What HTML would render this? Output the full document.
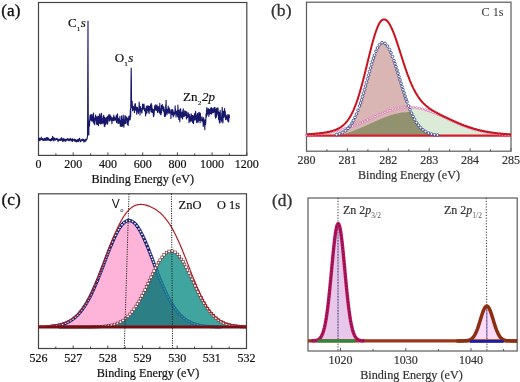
<!DOCTYPE html>
<html><head><meta charset="utf-8"><title>XPS spectra</title>
<style>
html,body{margin:0;padding:0;background:#fff;}
svg{display:block;font-family:"Liberation Serif",serif;}
</style></head>
<body>
<svg width="520" height="382" viewBox="0 0 520 382">
<defs><filter id="soft" x="0" y="0" width="100%" height="100%" filterUnits="userSpaceOnUse" color-interpolation-filters="sRGB"><feGaussianBlur stdDeviation="0.38"/></filter></defs>
<rect width="520" height="382" fill="#fff"/>
<g filter="url(#soft)">
<rect x="38.5" y="2.5" width="208.3" height="152.9" fill="none" stroke="#444" stroke-width="1.2"/>
<path d="M38.5 155.4v-3M73.2 155.4v-3M107.9 155.4v-3M142.7 155.4v-3M177.4 155.4v-3M212.1 155.4v-3M246.8 155.4v-3M55.9 155.4v-2M90.6 155.4v-2M125.3 155.4v-2M160 155.4v-2M194.7 155.4v-2M229.4 155.4v-2" stroke="#444" stroke-width="1" fill="none"/>
<text x="38.5" y="167.7" font-size="12" text-anchor="middle" fill="#111" stroke="#111" stroke-width="0.2">0</text>
<text x="73.2" y="167.7" font-size="12" text-anchor="middle" fill="#111" stroke="#111" stroke-width="0.2">200</text>
<text x="107.9" y="167.7" font-size="12" text-anchor="middle" fill="#111" stroke="#111" stroke-width="0.2">400</text>
<text x="142.7" y="167.7" font-size="12" text-anchor="middle" fill="#111" stroke="#111" stroke-width="0.2">600</text>
<text x="177.4" y="167.7" font-size="12" text-anchor="middle" fill="#111" stroke="#111" stroke-width="0.2">800</text>
<text x="212.1" y="167.7" font-size="12" text-anchor="middle" fill="#111" stroke="#111" stroke-width="0.2">1000</text>
<text x="246.8" y="167.7" font-size="12" text-anchor="middle" fill="#111" stroke="#111" stroke-width="0.2">1200</text>
<text x="142.8" y="183" font-size="12.2" text-anchor="middle" fill="#111" stroke="#111" stroke-width="0.2" >Binding Energy (eV)</text>
<text x="1.3" y="16.4" font-size="17.2" text-anchor="start" fill="#111" stroke="#111" stroke-width="0.35">(a)</text>
<path d="M38.5 139.8 L38.7 138.2 L38.8 140 L39 138 L39.2 139.4 L39.4 140.7 L39.5 139.4 L39.7 138.6 L39.9 138.4 L40.1 140.5 L40.2 139.4 L40.4 139.7 L40.6 139.8 L40.8 139.1 L40.9 139.1 L41.1 138.7 L41.3 137.1 L41.5 138.3 L41.6 139.4 L41.8 139 L42 139.2 L42.1 138.5 L42.3 139.2 L42.5 140.1 L42.7 139.3 L42.8 139.7 L43 138.6 L43.2 140.5 L43.4 139.6 L43.5 139.8 L43.7 140.4 L43.9 140.1 L44.1 139.3 L44.2 140 L44.4 138.4 L44.6 140 L44.7 139.9 L44.9 138.4 L45.1 140.5 L45.3 138.8 L45.4 139.9 L45.6 139.1 L45.8 140.2 L46 140.2 L46.1 138.4 L46.3 137.6 L46.5 139 L46.7 140.1 L46.8 139.5 L47 139.3 L47.2 140.1 L47.4 137.5 L47.5 139.1 L47.7 138.6 L47.9 139.9 L48 138.8 L48.2 138.3 L48.4 138.5 L48.6 138.2 L48.7 139.9 L48.9 139.9 L49.1 139.9 L49.3 139.4 L49.4 140.4 L49.6 139.5 L49.8 139.9 L50 139.8 L50.1 139.2 L50.3 140.6 L50.5 140.9 L50.7 140.5 L50.8 139.6 L51 139.3 L51.2 140 L51.3 140.8 L51.5 138.3 L51.7 139.5 L51.9 139 L52 140 L52.2 139.5 L52.4 139.6 L52.6 136.4 L52.7 138.6 L52.9 138.9 L53.1 140.1 L53.3 139.4 L53.4 139.2 L53.6 140 L53.8 140.9 L53.9 137.2 L54.1 139.1 L54.3 139.8 L54.5 139.9 L54.6 139.9 L54.8 138.7 L55 138.6 L55.2 139.4 L55.3 140.1 L55.5 139.7 L55.7 139.3 L55.9 139.6 L56 138.9 L56.2 139.1 L56.4 139 L56.6 138.7 L56.7 139.5 L56.9 138.4 L57.1 139.8 L57.2 140 L57.4 138.7 L57.6 140.3 L57.8 139.7 L57.9 141.3 L58.1 141.3 L58.3 140.4 L58.5 141 L58.6 139.6 L58.8 139.1 L59 139.3 L59.2 139.9 L59.3 139.9 L59.5 140.1 L59.7 139.4 L59.9 140.3 L60 140.6 L60.2 139.6 L60.4 139 L60.5 140.4 L60.7 140.5 L60.9 139.3 L61.1 138.3 L61.2 139.3 L61.4 140.1 L61.6 137.5 L61.8 139.3 L61.9 138.7 L62.1 138.6 L62.3 140 L62.5 139 L62.6 140.5 L62.8 141.6 L63 141.1 L63.1 139.9 L63.3 138.9 L63.5 139 L63.7 138.4 L63.8 140.9 L64 139.4 L64.2 139.2 L64.4 139.4 L64.5 140 L64.7 140.3 L64.9 139.3 L65.1 141.3 L65.2 139.4 L65.4 139.3 L65.6 140.2 L65.8 141.1 L65.9 141 L66.1 139.6 L66.3 140.1 L66.4 140 L66.6 140.2 L66.8 140 L67 139 L67.1 138.8 L67.3 139.7 L67.5 138.5 L67.7 140.2 L67.8 139.5 L68 139.1 L68.2 139.9 L68.4 139.7 L68.5 139.9 L68.7 140.6 L68.9 139 L69.1 138.9 L69.2 140.8 L69.4 140.1 L69.6 140.1 L69.7 140.1 L69.9 139.4 L70.1 139.9 L70.3 138.3 L70.4 139.4 L70.6 139 L70.8 139 L71 140.7 L71.1 140.9 L71.3 139.3 L71.5 139.6 L71.7 140.4 L71.8 140.6 L72 139.2 L72.2 139.5 L72.3 138.5 L72.5 141.4 L72.7 139.8 L72.9 140.1 L73 139.9 L73.2 140.2 L73.4 139.9 L73.6 139.4 L73.7 140.3 L73.9 139.9 L74.1 140.7 L74.3 139 L74.4 139 L74.6 140.4 L74.8 141.3 L75 140.9 L75.1 139.9 L75.3 140.1 L75.5 139.5 L75.6 141.4 L75.8 140.7 L76 141.1 L76.2 140.6 L76.3 140.1 L76.5 141.7 L76.7 142 L76.9 141.2 L77 140.8 L77.2 141.4 L77.4 140 L77.6 140.6 L77.7 139.5 L77.9 139.4 L78.1 140.7 L78.3 140.6 L78.4 141.8 L78.6 140.2 L78.8 140.3 L78.9 139.3 L79.1 138.6 L79.3 138.4 L79.5 139.8 L79.6 138.3 L79.8 140.5 L80 141.1 L80.2 140.2 L80.3 141.8 L80.5 140.7 L80.7 141.4 L80.9 140.3 L81 141.2 L81.2 139.6 L81.4 140.6 L81.5 139.6 L81.7 139.6 L81.9 140.3 L82.1 140.1 L82.2 140 L82.4 140.6 L82.6 140.5 L82.8 138.8 L82.9 140.4 L83.1 140.5 L83.3 139.5 L83.5 140.6 L83.6 139.5 L83.8 141.9 L84 140.7 L84.2 140.8 L84.3 141.9 L84.5 140.7 L84.7 141.1 L84.8 139.7 L85 140.1 L85.2 139.4 L85.4 140.3 L85.5 141.3 L85.7 140.6 L85.9 141.1 L86.1 139.4 L86.2 139.2 L86.4 139.2 L86.6 139.8 L86.8 139.3 L86.9 138.7 L87.1 138.8 L87.3 137.7 L87.5 136.1 L87.6 124.2 L87.8 62.5 L88 21 L88.1 67.3 L88.3 119 L88.5 134.8 L88.7 130.4 L88.8 135 L89 121.8 L89.2 122.7 L89.4 120.9 L89.5 125.9 L89.7 121.1 L89.9 118.1 L90.1 115.3 L90.2 119.4 L90.4 118.6 L90.6 116.2 L90.7 114.8 L90.9 116.6 L91.1 120.7 L91.3 121 L91.4 120.4 L91.6 119.8 L91.8 114.5 L92 118.3 L92.1 114.4 L92.3 118.3 L92.5 120.6 L92.7 118.7 L92.8 117.1 L93 121.9 L93.2 119.6 L93.4 118.1 L93.5 113 L93.7 121.9 L93.9 123 L94 123.6 L94.2 118.1 L94.4 119.1 L94.6 120.5 L94.7 124.8 L94.9 118.3 L95.1 119.9 L95.3 116.5 L95.4 119.7 L95.6 115 L95.8 120.2 L96 118.3 L96.1 119.3 L96.3 121.6 L96.5 123.7 L96.7 116.7 L96.8 124.2 L97 122.8 L97.2 120.2 L97.3 124.4 L97.5 120.2 L97.7 122.1 L97.9 116.1 L98 116.2 L98.2 122.5 L98.4 125.8 L98.6 121.7 L98.7 122.3 L98.9 118.6 L99.1 116.1 L99.3 118.8 L99.4 123.1 L99.6 114.1 L99.8 117.6 L99.9 113.7 L100.1 120.4 L100.3 123.8 L100.5 119.6 L100.6 120.6 L100.8 124 L101 119 L101.2 115.7 L101.3 115.3 L101.5 113.2 L101.7 121.4 L101.9 118.2 L102 123.8 L102.2 123 L102.4 118.7 L102.6 118.8 L102.7 122.1 L102.9 120.4 L103.1 120.6 L103.2 116 L103.4 123.2 L103.6 119 L103.8 115.2 L103.9 119.4 L104.1 122 L104.3 126.3 L104.5 119.8 L104.6 117.2 L104.8 126.6 L105 121.8 L105.2 121 L105.3 118.5 L105.5 118.3 L105.7 124.5 L105.9 119.4 L106 118.1 L106.2 117.7 L106.4 123.3 L106.5 117.8 L106.7 121.2 L106.9 120.1 L107.1 120 L107.2 116.9 L107.4 121.4 L107.6 124.3 L107.8 120.4 L107.9 117.4 L108.1 115.7 L108.3 118.8 L108.5 117.2 L108.6 117.2 L108.8 117.1 L109 114.3 L109.1 121.3 L109.3 121 L109.5 119.4 L109.7 119.4 L109.8 120.4 L110 117.8 L110.2 115 L110.4 120 L110.5 117.1 L110.7 117.7 L110.9 116.8 L111.1 120.3 L111.2 116.9 L111.4 117.7 L111.6 121 L111.8 120.6 L111.9 123.8 L112.1 121.4 L112.3 118.9 L112.4 118.6 L112.6 117.8 L112.8 120.5 L113 118.5 L113.1 117.3 L113.3 120.5 L113.5 118.5 L113.7 117.5 L113.8 115.1 L114 120.7 L114.2 120.3 L114.4 119.9 L114.5 118.8 L114.7 117.4 L114.9 118.7 L115.1 119.6 L115.2 119 L115.4 119.3 L115.6 118.7 L115.7 120.2 L115.9 119.2 L116.1 115.9 L116.3 120.7 L116.4 121.7 L116.6 122.7 L116.8 119.2 L117 118 L117.1 114.4 L117.3 120.4 L117.5 113.7 L117.7 119.2 L117.8 119.8 L118 123.5 L118.2 121.7 L118.3 119.4 L118.5 118.4 L118.7 120.5 L118.9 123.1 L119 123.3 L119.2 123 L119.4 119.9 L119.6 119.3 L119.7 120.6 L119.9 116.4 L120.1 120.7 L120.3 126.2 L120.4 123.6 L120.6 121.2 L120.8 124.4 L121 120.6 L121.1 122.5 L121.3 126.4 L121.5 126.3 L121.6 115.7 L121.8 120.9 L122 125 L122.2 119.2 L122.3 122.1 L122.5 126.2 L122.7 121.8 L122.9 125.1 L123 121.8 L123.2 115 L123.4 119.1 L123.6 118.8 L123.7 122.9 L123.9 127.1 L124.1 123.7 L124.3 121.3 L124.4 123.9 L124.6 122.2 L124.8 123.3 L124.9 115.8 L125.1 117.3 L125.3 115.7 L125.5 123.4 L125.6 120.8 L125.8 118.3 L126 117.1 L126.2 117.7 L126.3 116.9 L126.5 118.6 L126.7 118.2 L126.9 123.1 L127 120.3 L127.2 117.9 L127.4 119.1 L127.5 124.4 L127.7 122.2 L127.9 121.7 L128.1 122.6 L128.2 125.4 L128.4 118.6 L128.6 120.3 L128.8 116.4 L128.9 120.9 L129.1 117.2 L129.3 116.4 L129.5 116 L129.6 119.5 L129.8 117 L130 115.5 L130.2 119.7 L130.3 111.5 L130.5 108.8 L130.7 116.7 L130.8 101.8 L131 81.7 L131.2 68 L131.4 81.3 L131.5 102 L131.7 107.6 L131.9 107 L132.1 104.6 L132.2 101.2 L132.4 106.7 L132.6 110.8 L132.8 110.3 L132.9 107.1 L133.1 109.5 L133.3 106.8 L133.5 108.6 L133.6 106.3 L133.8 109.4 L134 110.2 L134.1 108.8 L134.3 110.7 L134.5 112.6 L134.7 110 L134.8 104.6 L135 103.8 L135.2 104.2 L135.4 103.7 L135.5 107.5 L135.7 109.8 L135.9 110.3 L136.1 109.8 L136.2 109.2 L136.4 107.8 L136.6 107 L136.7 114.3 L136.9 113.3 L137.1 107.7 L137.3 107.2 L137.4 107.6 L137.6 108.6 L137.8 111.3 L138 110.1 L138.1 111.3 L138.3 112.4 L138.5 113.5 L138.7 111.4 L138.8 109.6 L139 107 L139.2 102 L139.4 105.6 L139.5 110 L139.7 106.2 L139.9 108.3 L140 115 L140.2 110.2 L140.4 106.5 L140.6 109.6 L140.7 108.6 L140.9 110.4 L141.1 108.4 L141.3 111.4 L141.4 111.2 L141.6 112.5 L141.8 113 L142 112.5 L142.1 109.5 L142.3 109.9 L142.5 104 L142.7 107.7 L142.8 109.3 L143 108 L143.2 108.6 L143.3 109.1 L143.5 104.6 L143.7 107.3 L143.9 107.3 L144 104.1 L144.2 106.7 L144.4 110 L144.6 110.6 L144.7 111 L144.9 108.6 L145.1 108.7 L145.3 109.3 L145.4 111.6 L145.6 116 L145.8 113.2 L145.9 114 L146.1 113.6 L146.3 106.1 L146.5 109.1 L146.6 107.8 L146.8 111.5 L147 112.9 L147.2 106.8 L147.3 108.8 L147.5 109.7 L147.7 106.4 L147.9 105.5 L148 105.8 L148.2 110.4 L148.4 106.1 L148.6 112 L148.7 109.8 L148.9 112.1 L149.1 113.7 L149.2 107.3 L149.4 106.4 L149.6 110.2 L149.8 106.8 L149.9 108 L150.1 109 L150.3 109.2 L150.5 104.9 L150.6 107.2 L150.8 109.7 L151 111.7 L151.2 103.4 L151.3 112.3 L151.5 111.6 L151.7 106.3 L151.8 105.1 L152 110 L152.2 108.2 L152.4 110.1 L152.5 112.5 L152.7 109 L152.9 110.2 L153.1 110.8 L153.2 112.8 L153.4 116 L153.6 116.7 L153.8 111.8 L153.9 109.4 L154.1 115.1 L154.3 110.6 L154.5 110 L154.6 106 L154.8 110.5 L155 106 L155.1 106.3 L155.3 104.7 L155.5 107.4 L155.7 109.5 L155.8 105.8 L156 107.8 L156.2 110.3 L156.4 106.4 L156.5 105.6 L156.7 105.9 L156.9 104.8 L157.1 110.5 L157.2 106.7 L157.4 111.8 L157.6 112.6 L157.8 107.5 L157.9 110.3 L158.1 108.4 L158.3 106.2 L158.4 108.1 L158.6 108.2 L158.8 110.4 L159 112.1 L159.1 107.4 L159.3 110.1 L159.5 112 L159.7 113.2 L159.8 103.2 L160 113.2 L160.2 109.6 L160.4 114.3 L160.5 109.6 L160.7 109 L160.9 111.8 L161 114.8 L161.2 111.8 L161.4 105.6 L161.6 112.8 L161.7 105.9 L161.9 106.8 L162.1 106.2 L162.3 104.4 L162.4 105.9 L162.6 107.1 L162.8 108.6 L163 110.5 L163.1 109.6 L163.3 106.4 L163.5 109.6 L163.7 111.7 L163.8 110.6 L164 107.5 L164.2 110.7 L164.3 113.2 L164.5 116.3 L164.7 116.5 L164.9 110.5 L165 110 L165.2 115 L165.4 115.7 L165.6 116.1 L165.7 104.8 L165.9 109.4 L166.1 100.3 L166.3 112.3 L166.4 111.9 L166.6 113.4 L166.8 111.8 L167 114.6 L167.1 109.4 L167.3 113.2 L167.5 112.2 L167.6 112 L167.8 111.6 L168 110 L168.2 106.1 L168.3 111.6 L168.5 112.4 L168.7 110.8 L168.9 113.2 L169 113.6 L169.2 107.9 L169.4 110.9 L169.6 110.2 L169.7 109 L169.9 112.7 L170.1 110 L170.2 111.5 L170.4 113.1 L170.6 113.2 L170.8 112.9 L170.9 118.5 L171.1 111.9 L171.3 114.4 L171.5 109.8 L171.6 113.5 L171.8 114.5 L172 114.4 L172.2 109.2 L172.3 109.9 L172.5 114.6 L172.7 111.6 L172.9 115 L173 110.3 L173.2 116.9 L173.4 116.4 L173.5 115.3 L173.7 112.3 L173.9 114.4 L174.1 115 L174.2 115.1 L174.4 113.9 L174.6 112.2 L174.8 111.9 L174.9 113.6 L175.1 105.9 L175.3 108.8 L175.5 109.6 L175.6 112.6 L175.8 110.4 L176 117.1 L176.2 115.2 L176.3 113.5 L176.5 111.6 L176.7 113.5 L176.8 113.3 L177 113.4 L177.2 111.1 L177.4 115.3 L177.5 110.2 L177.7 117 L177.9 105.1 L178.1 111.3 L178.2 110.3 L178.4 116.3 L178.6 111 L178.8 119.4 L178.9 110.2 L179.1 119.2 L179.3 115.9 L179.4 115.7 L179.6 117.6 L179.8 121.7 L180 117.8 L180.1 109.1 L180.3 117.5 L180.5 114.3 L180.7 108.8 L180.8 115.8 L181 111.4 L181.2 115.9 L181.4 116.3 L181.5 114.2 L181.7 117.8 L181.9 112.6 L182.1 115 L182.2 112.2 L182.4 113.3 L182.6 119 L182.7 114.3 L182.9 110.1 L183.1 111.7 L183.3 108.9 L183.4 112.9 L183.6 115.1 L183.8 116.8 L184 116 L184.1 113.5 L184.3 115.3 L184.5 116.1 L184.7 110.8 L184.8 111.5 L185 112 L185.2 115.4 L185.4 115.2 L185.5 111.3 L185.7 114.4 L185.9 111.2 L186 113.2 L186.2 116.3 L186.4 118.6 L186.6 119 L186.7 115.2 L186.9 112 L187.1 117 L187.3 115.8 L187.4 117.8 L187.6 116.2 L187.8 116.8 L188 115.8 L188.1 116.2 L188.3 112.7 L188.5 116.4 L188.6 113.8 L188.8 116.6 L189 122.6 L189.2 118.5 L189.3 114.3 L189.5 121.1 L189.7 119.5 L189.9 119.7 L190 116.9 L190.2 118.1 L190.4 117.4 L190.6 116.9 L190.7 121.6 L190.9 115.3 L191.1 113.8 L191.3 114.2 L191.4 120.7 L191.6 118.4 L191.8 116 L191.9 117.7 L192.1 120 L192.3 121.5 L192.5 115.4 L192.6 122.6 L192.8 118.6 L193 116.4 L193.2 116.2 L193.3 120.3 L193.5 123.8 L193.7 120.5 L193.9 120.4 L194 115.5 L194.2 117.7 L194.4 119.1 L194.6 113.6 L194.7 116.7 L194.9 119.9 L195.1 113 L195.2 116.4 L195.4 118.2 L195.6 111.4 L195.8 114 L195.9 116.3 L196.1 119.6 L196.3 115 L196.5 121.7 L196.6 120 L196.8 122.8 L197 122.1 L197.2 119.4 L197.3 119.2 L197.5 113.4 L197.7 114.5 L197.8 115.5 L198 118.1 L198.2 122.3 L198.4 116.1 L198.5 118.4 L198.7 114.3 L198.9 112.3 L199.1 120.2 L199.2 116.4 L199.4 120.4 L199.6 119.7 L199.8 114.7 L199.9 112.7 L200.1 122.8 L200.3 116 L200.5 113.8 L200.6 120.1 L200.8 120.1 L201 119.5 L201.1 119.8 L201.3 120.6 L201.5 119.8 L201.7 121 L201.8 117.4 L202 116.8 L202.2 119.5 L202.4 118.9 L202.5 121.2 L202.7 119.6 L202.9 122.1 L203.1 121.3 L203.2 126.4 L203.4 117.6 L203.6 120.7 L203.8 118.6 L203.9 122.7 L204.1 124.5 L204.3 119.7 L204.4 125 L204.6 122.4 L204.8 129.7 L205 123.8 L205.1 119.9 L205.3 120.7 L205.5 124.6 L205.7 123.6 L205.8 121.2 L206 114 L206.2 113.8 L206.4 117.2 L206.5 109.6 L206.7 109.3 L206.9 107.5 L207 108 L207.2 115.3 L207.4 113.4 L207.6 112.6 L207.7 112.7 L207.9 113 L208.1 113.4 L208.3 108.6 L208.4 109.3 L208.6 109.2 L208.8 116.4 L209 112 L209.1 109.2 L209.3 112.3 L209.5 112.5 L209.7 114.1 L209.8 114 L210 109.5 L210.2 109.3 L210.3 110.6 L210.5 108.6 L210.7 111.8 L210.9 113.7 L211 112.1 L211.2 107.3 L211.4 107.9 L211.6 114.1 L211.7 107.7 L211.9 112 L212.1 112.7 L212.3 111.2 L212.4 110.4 L212.6 112.6 L212.8 108.8 L213 109.7 L213.1 111.5 L213.3 110.4 L213.5 112.8 L213.6 111.6 L213.8 108.2 L214 109.9 L214.2 109.6 L214.3 107.2 L214.5 112 L214.7 112.1 L214.9 111.3 L215 107.5 L215.2 116.1 L215.4 117 L215.6 118.1 L215.7 115.6 L215.9 109.9 L216.1 112 L216.2 109 L216.4 117.1 L216.6 109.8 L216.8 113.4 L216.9 108 L217.1 109.5 L217.3 111 L217.5 114 L217.6 113.4 L217.8 113.1 L218 107.8 L218.2 116 L218.3 111.2 L218.5 118.5 L218.7 119.8 L218.9 117.3 L219 118 L219.2 112.3 L219.4 122.9 L219.5 117.3 L219.7 119.9 L219.9 113.7 L220.1 114.4 L220.2 110.2 L220.4 114.6 L220.6 117.3 L220.8 119.9 L220.9 122.5 L221.1 119.8 L221.3 118.9 L221.5 117.1 L221.6 121.1 L221.8 113.1 L222 116.6 L222.2 107.2 L222.3 108.9 L222.5 113.6 L222.7 113.4 L222.8 123 L223 122 L223.2 111.4 L223.4 112.7 L223.5 113.8 L223.7 117.5 L223.9 114.6 L224.1 113.9 L224.2 110.7 L224.4 113.6 L224.6 108.6 L224.8 111.5 L224.9 116.6 L225.1 117.3 L225.3 111.5 L225.4 114.9 L225.6 119.7 L225.8 116.7 L226 116.3 L226.1 119 L226.3 119.1 L226.5 118.2 L226.7 115.7 L226.8 115.2 L227 115.8 L227.2 114.5 L227.4 120 L227.5 119.3 L227.7 119.3 L227.9 121.3 L228.1 119.7 L228.2 119.2 L228.4 116.4 L228.6 114.9 L228.7 122 L228.9 114.7 L229.1 115.4 L229.3 115.1 L229.4 118.2" fill="none" stroke="#17176c" stroke-width="1.1" stroke-linejoin="round"/>
<text x="68" y="27" font-size="13" text-anchor="start" fill="#111" stroke="#111" stroke-width="0.2" >C<tspan font-size="6.5" dy="4.2" dx="0.3">1</tspan><tspan dy="-4.2" dx="0.6" font-style="italic">s</tspan></text>
<text x="114.8" y="62" font-size="13" text-anchor="start" fill="#111" stroke="#111" stroke-width="0.2" >O<tspan font-size="6.5" dy="4.2" dx="0.3">1</tspan><tspan dy="-4.2" dx="0.6" font-style="italic">s</tspan></text>
<text x="183" y="100.8" font-size="13" text-anchor="start" fill="#111" stroke="#111" stroke-width="0.2" >Zn<tspan font-size="6.5" dy="4" dx="0.5">2</tspan><tspan dy="-4" dx="0.8" font-style="italic">2p</tspan></text>
<rect x="306.5" y="2.2" width="204.5" height="149.0" fill="none" stroke="#5a5a5a" stroke-width="1.2"/>
<path d="M306.5 151.2v-3M347.4 151.2v-3M388.3 151.2v-3M429.2 151.2v-3M470.1 151.2v-3M511 151.2v-3M326.9 151.2v-2M367.9 151.2v-2M408.8 151.2v-2M449.6 151.2v-2M490.5 151.2v-2" stroke="#5a5a5a" stroke-width="1" fill="none"/>
<text x="306.5" y="164.2" font-size="12" text-anchor="middle" fill="#333" stroke="#333" stroke-width="0.2">280</text>
<text x="347.4" y="164.2" font-size="12" text-anchor="middle" fill="#333" stroke="#333" stroke-width="0.2">281</text>
<text x="388.3" y="164.2" font-size="12" text-anchor="middle" fill="#333" stroke="#333" stroke-width="0.2">282</text>
<text x="429.2" y="164.2" font-size="12" text-anchor="middle" fill="#333" stroke="#333" stroke-width="0.2">283</text>
<text x="470.1" y="164.2" font-size="12" text-anchor="middle" fill="#333" stroke="#333" stroke-width="0.2">284</text>
<text x="511" y="164.2" font-size="12" text-anchor="middle" fill="#333" stroke="#333" stroke-width="0.2">285</text>
<text x="409" y="179.4" font-size="12.1" text-anchor="middle" fill="#333" stroke="#333" stroke-width="0.2" >Binding Energy (eV)</text>
<text x="271" y="15.6" font-size="17.6" text-anchor="start" fill="#333" stroke="#333" stroke-width="0.3">(b)</text>
<text x="503.6" y="16" font-size="12.3" text-anchor="end" fill="#333" stroke="#333" stroke-width="0">C 1s</text>
<path d="M306.5 134.9 L307 134.8 L307.5 134.8 L308 134.8 L308.5 134.7 L309 134.7 L309.5 134.7 L310 134.6 L310.5 134.6 L311 134.6 L311.5 134.5 L312 134.5 L312.5 134.5 L313 134.4 L313.5 134.4 L314 134.3 L314.5 134.3 L315 134.3 L315.5 134.2 L316 134.2 L316.5 134.1 L317 134.1 L317.5 134 L318 134 L318.5 133.9 L319 133.9 L319.5 133.8 L320 133.8 L320.5 133.7 L321 133.6 L321.5 133.6 L322 133.5 L322.5 133.5 L323 133.4 L323.5 133.3 L324 133.3 L324.5 133.2 L325 133.1 L325.5 133.1 L326 133 L326.5 132.9 L327 132.8 L327.5 132.7 L328 132.7 L328.5 132.6 L329 132.5 L329.5 132.4 L330 132.3 L330.5 132.2 L331 132.1 L331.5 132 L332 131.9 L332.5 131.8 L333 131.7 L333.5 131.6 L334 131.5 L334.5 131.4 L335 131.3 L335.5 131.2 L336 131.1 L336.5 131 L337 130.9 L337.5 130.7 L338 130.6 L338.5 130.5 L339 130.4 L339.5 130.2 L340 130.1 L340.5 130 L341 129.9 L341.5 129.7 L342 129.6 L342.5 129.4 L343 129.3 L343.5 129.1 L344 129 L344.5 128.9 L345 128.7 L345.5 128.5 L346 128.4 L346.5 128.2 L347 128.1 L347.5 127.9 L348 127.7 L348.5 127.6 L349 127.4 L349.5 127.2 L350 127.1 L350.5 126.9 L351 126.7 L351.5 126.5 L352 126.3 L352.5 126.2 L353 126 L353.5 125.8 L354 125.6 L354.5 125.4 L355 125.2 L355.5 125 L356 124.8 L356.5 124.6 L357 124.4 L357.5 124.2 L358 124 L358.5 123.8 L359 123.6 L359.5 123.4 L360 123.2 L360.5 123 L361 122.8 L361.5 122.6 L362 122.3 L362.5 122.1 L363 121.9 L363.5 121.7 L364 121.5 L364.5 121.2 L365 121 L365.5 120.8 L366 120.6 L366.5 120.4 L367 120.1 L367.5 119.9 L368 119.7 L368.5 119.4 L369 119.2 L369.5 119 L370 118.8 L370.5 118.5 L371 118.3 L371.5 118.1 L372 117.9 L372.5 117.6 L373 117.4 L373.5 117.2 L374 117 L374.5 116.7 L375 116.5 L375.5 116.3 L376 116.1 L376.5 115.8 L377 115.6 L377.5 115.4 L378 115.2 L378.5 114.9 L379 114.7 L379.5 114.5 L380 114.3 L380.5 114.1 L381 113.9 L381.5 113.7 L382 113.5 L382.5 113.3 L383 113 L383.5 112.8 L384 112.6 L384.5 112.4 L385 112.3 L385.5 112.1 L386 111.9 L386.5 111.7 L387 111.5 L387.5 111.3 L388 111.1 L388.5 111 L389 110.8 L389.5 110.6 L390 110.4 L390.5 110.3 L391 110.1 L391.5 110 L392 109.8 L392.5 109.7 L393 109.5 L393.5 109.4 L394 109.2 L394.5 109.1 L395 109 L395.5 108.8 L396 108.7 L396.5 108.6 L397 108.5 L397.5 108.4 L398 108.3 L398.5 108.2 L399 108.1 L399.5 108 L400 107.9 L400.5 107.8 L401 107.7 L401.5 107.6 L402 107.6 L402.5 107.5 L403 107.5 L403.5 107.4 L404 107.3 L404.5 107.3 L405 107.3 L405.5 107.2 L406 107.2 L406.5 107.2 L407 107.1 L407.5 107.1 L408 107.1 L408.5 107.1 L409 107.1 L409.5 107.1 L410 107.1 L410.5 107.1 L411 107.1 L411.5 107.2 L412 107.2 L412.5 107.2 L413 107.3 L413.5 107.3 L414 107.4 L414.5 107.4 L415 107.5 L415.5 107.5 L416 107.6 L416.5 107.7 L417 107.7 L417.5 107.8 L418 107.9 L418.5 108 L419 108.1 L419.5 108.2 L420 108.3 L420.5 108.4 L421 108.5 L421.5 108.6 L422 108.8 L422.5 108.9 L423 109 L423.5 109.2 L424 109.3 L424.5 109.4 L425 109.6 L425.5 109.7 L426 109.9 L426.5 110 L427 110.2 L427.5 110.4 L428 110.5 L428.5 110.7 L429 110.9 L429.5 111.1 L430 111.2 L430.5 111.4 L431 111.6 L431.5 111.8 L432 112 L432.5 112.2 L433 112.4 L433.5 112.6 L434 112.8 L434.5 113 L435 113.2 L435.5 113.4 L436 113.6 L436.5 113.8 L437 114 L437.5 114.2 L438 114.5 L438.5 114.7 L439 114.9 L439.5 115.1 L440 115.3 L440.5 115.6 L441 115.8 L441.5 116 L442 116.2 L442.5 116.5 L443 116.7 L443.5 116.9 L444 117.2 L444.5 117.4 L445 117.6 L445.5 117.9 L446 118.1 L446.5 118.3 L447 118.5 L447.5 118.8 L448 119 L448.5 119.2 L449 119.5 L449.5 119.7 L450 119.9 L450.5 120.2 L451 120.4 L451.5 120.6 L452 120.8 L452.5 121.1 L453 121.3 L453.5 121.5 L454 121.7 L454.5 121.9 L455 122.2 L455.5 122.4 L456 122.6 L456.5 122.8 L457 123 L457.5 123.3 L458 123.5 L458.5 123.7 L459 123.9 L459.5 124.1 L460 124.3 L460.5 124.5 L461 124.7 L461.5 124.9 L462 125.1 L462.5 125.3 L463 125.5 L463.5 125.7 L464 125.9 L464.5 126.1 L465 126.3 L465.5 126.4 L466 126.6 L466.5 126.8 L467 127 L467.5 127.2 L468 127.3 L468.5 127.5 L469 127.7 L469.5 127.8 L470 128 L470.5 128.2 L471 128.3 L471.5 128.5 L472 128.7 L472.5 128.8 L473 129 L473.5 129.1 L474 129.3 L474.5 129.4 L475 129.5 L475.5 129.7 L476 129.8 L476.5 130 L477 130.1 L477.5 130.2 L478 130.4 L478.5 130.5 L479 130.6 L479.5 130.7 L480 130.9 L480.5 131 L481 131.1 L481.5 131.2 L482 131.3 L482.5 131.4 L483 131.5 L483.5 131.6 L484 131.7 L484.5 131.8 L485 131.9 L485.5 132 L486 132.1 L486.5 132.2 L487 132.3 L487.5 132.4 L488 132.5 L488.5 132.6 L489 132.7 L489.5 132.8 L490 132.8 L490.5 132.9 L491 133 L491.5 133.1 L492 133.1 L492.5 133.2 L493 133.3 L493.5 133.3 L494 133.4 L494.5 133.5 L495 133.5 L495.5 133.6 L496 133.7 L496.5 133.7 L497 133.8 L497.5 133.8 L498 133.9 L498.5 133.9 L499 134 L499.5 134.1 L500 134.1 L500.5 134.1 L501 134.2 L501.5 134.2 L502 134.3 L502.5 134.3 L503 134.4 L503.5 134.4 L504 134.4 L504.5 134.5 L505 134.5 L505.5 134.6 L506 134.6 L506.5 134.6 L507 134.7 L507.5 134.7 L508 134.7 L508.5 134.8 L509 134.8 L509.5 134.8 L510 134.8 L510.5 134.9 L511 134.9 L511 135.6 L510.5 135.6 L510 135.6 L509.5 135.6 L509 135.6 L508.5 135.6 L508 135.6 L507.5 135.6 L507 135.6 L506.5 135.6 L506 135.6 L505.5 135.6 L505 135.6 L504.5 135.6 L504 135.6 L503.5 135.6 L503 135.6 L502.5 135.6 L502 135.6 L501.5 135.6 L501 135.6 L500.5 135.6 L500 135.6 L499.5 135.6 L499 135.6 L498.5 135.6 L498 135.6 L497.5 135.6 L497 135.6 L496.5 135.6 L496 135.6 L495.5 135.6 L495 135.6 L494.5 135.6 L494 135.6 L493.5 135.6 L493 135.6 L492.5 135.6 L492 135.6 L491.5 135.6 L491 135.6 L490.5 135.6 L490 135.6 L489.5 135.6 L489 135.6 L488.5 135.6 L488 135.6 L487.5 135.6 L487 135.6 L486.5 135.6 L486 135.6 L485.5 135.6 L485 135.6 L484.5 135.6 L484 135.6 L483.5 135.6 L483 135.6 L482.5 135.6 L482 135.6 L481.5 135.6 L481 135.6 L480.5 135.6 L480 135.6 L479.5 135.6 L479 135.6 L478.5 135.6 L478 135.6 L477.5 135.6 L477 135.6 L476.5 135.6 L476 135.6 L475.5 135.6 L475 135.6 L474.5 135.6 L474 135.6 L473.5 135.6 L473 135.6 L472.5 135.6 L472 135.6 L471.5 135.6 L471 135.6 L470.5 135.6 L470 135.6 L469.5 135.6 L469 135.6 L468.5 135.6 L468 135.6 L467.5 135.6 L467 135.6 L466.5 135.6 L466 135.6 L465.5 135.6 L465 135.6 L464.5 135.6 L464 135.6 L463.5 135.6 L463 135.6 L462.5 135.6 L462 135.6 L461.5 135.6 L461 135.6 L460.5 135.6 L460 135.6 L459.5 135.6 L459 135.6 L458.5 135.6 L458 135.6 L457.5 135.6 L457 135.6 L456.5 135.6 L456 135.6 L455.5 135.6 L455 135.6 L454.5 135.6 L454 135.6 L453.5 135.6 L453 135.6 L452.5 135.6 L452 135.6 L451.5 135.6 L451 135.6 L450.5 135.6 L450 135.6 L449.5 135.6 L449 135.6 L448.5 135.6 L448 135.6 L447.5 135.6 L447 135.6 L446.5 135.6 L446 135.6 L445.5 135.6 L445 135.6 L444.5 135.6 L444 135.6 L443.5 135.6 L443 135.6 L442.5 135.6 L442 135.6 L441.5 135.6 L441 135.6 L440.5 135.6 L440 135.6 L439.5 135.6 L439 135.6 L438.5 135.6 L438 135.6 L437.5 135.6 L437 135.6 L436.5 135.6 L436 135.6 L435.5 135.6 L435 135.6 L434.5 135.6 L434 135.6 L433.5 135.6 L433 135.6 L432.5 135.6 L432 135.6 L431.5 135.6 L431 135.6 L430.5 135.6 L430 135.6 L429.5 135.6 L429 135.6 L428.5 135.6 L428 135.6 L427.5 135.6 L427 135.6 L426.5 135.6 L426 135.6 L425.5 135.6 L425 135.6 L424.5 135.6 L424 135.6 L423.5 135.6 L423 135.6 L422.5 135.6 L422 135.6 L421.5 135.6 L421 135.6 L420.5 135.6 L420 135.6 L419.5 135.6 L419 135.6 L418.5 135.6 L418 135.6 L417.5 135.6 L417 135.6 L416.5 135.6 L416 135.6 L415.5 135.6 L415 135.6 L414.5 135.6 L414 135.6 L413.5 135.6 L413 135.6 L412.5 135.6 L412 135.6 L411.5 135.6 L411 135.6 L410.5 135.6 L410 135.6 L409.5 135.6 L409 135.6 L408.5 135.6 L408 135.6 L407.5 135.6 L407 135.6 L406.5 135.6 L406 135.6 L405.5 135.6 L405 135.6 L404.5 135.6 L404 135.6 L403.5 135.6 L403 135.6 L402.5 135.6 L402 135.6 L401.5 135.6 L401 135.6 L400.5 135.6 L400 135.6 L399.5 135.6 L399 135.6 L398.5 135.6 L398 135.6 L397.5 135.6 L397 135.6 L396.5 135.6 L396 135.6 L395.5 135.6 L395 135.6 L394.5 135.6 L394 135.6 L393.5 135.6 L393 135.6 L392.5 135.6 L392 135.6 L391.5 135.6 L391 135.6 L390.5 135.6 L390 135.6 L389.5 135.6 L389 135.6 L388.5 135.6 L388 135.6 L387.5 135.6 L387 135.6 L386.5 135.6 L386 135.6 L385.5 135.6 L385 135.6 L384.5 135.6 L384 135.6 L383.5 135.6 L383 135.6 L382.5 135.6 L382 135.6 L381.5 135.6 L381 135.6 L380.5 135.6 L380 135.6 L379.5 135.6 L379 135.6 L378.5 135.6 L378 135.6 L377.5 135.6 L377 135.6 L376.5 135.6 L376 135.6 L375.5 135.6 L375 135.6 L374.5 135.6 L374 135.6 L373.5 135.6 L373 135.6 L372.5 135.6 L372 135.6 L371.5 135.6 L371 135.6 L370.5 135.6 L370 135.6 L369.5 135.6 L369 135.6 L368.5 135.6 L368 135.6 L367.5 135.6 L367 135.6 L366.5 135.6 L366 135.6 L365.5 135.6 L365 135.6 L364.5 135.6 L364 135.6 L363.5 135.6 L363 135.6 L362.5 135.6 L362 135.6 L361.5 135.6 L361 135.6 L360.5 135.6 L360 135.6 L359.5 135.6 L359 135.6 L358.5 135.6 L358 135.6 L357.5 135.6 L357 135.6 L356.5 135.6 L356 135.6 L355.5 135.6 L355 135.6 L354.5 135.6 L354 135.6 L353.5 135.6 L353 135.6 L352.5 135.6 L352 135.6 L351.5 135.6 L351 135.6 L350.5 135.6 L350 135.6 L349.5 135.6 L349 135.6 L348.5 135.6 L348 135.6 L347.5 135.6 L347 135.6 L346.5 135.6 L346 135.6 L345.5 135.6 L345 135.6 L344.5 135.6 L344 135.6 L343.5 135.6 L343 135.6 L342.5 135.6 L342 135.6 L341.5 135.6 L341 135.6 L340.5 135.6 L340 135.6 L339.5 135.6 L339 135.6 L338.5 135.6 L338 135.6 L337.5 135.6 L337 135.6 L336.5 135.6 L336 135.6 L335.5 135.6 L335 135.6 L334.5 135.6 L334 135.6 L333.5 135.6 L333 135.6 L332.5 135.6 L332 135.6 L331.5 135.6 L331 135.6 L330.5 135.6 L330 135.6 L329.5 135.6 L329 135.6 L328.5 135.6 L328 135.6 L327.5 135.6 L327 135.6 L326.5 135.6 L326 135.6 L325.5 135.6 L325 135.6 L324.5 135.6 L324 135.6 L323.5 135.6 L323 135.6 L322.5 135.6 L322 135.6 L321.5 135.6 L321 135.6 L320.5 135.6 L320 135.6 L319.5 135.6 L319 135.6 L318.5 135.6 L318 135.6 L317.5 135.6 L317 135.6 L316.5 135.6 L316 135.6 L315.5 135.6 L315 135.6 L314.5 135.6 L314 135.6 L313.5 135.6 L313 135.6 L312.5 135.6 L312 135.6 L311.5 135.6 L311 135.6 L310.5 135.6 L310 135.6 L309.5 135.6 L309 135.6 L308.5 135.6 L308 135.6 L307.5 135.6 L307 135.6 L306.5 135.6Z" fill="#dcead8"/>
<path d="M306.5 135.6 L307 135.6 L307.5 135.6 L308 135.6 L308.5 135.6 L309 135.6 L309.5 135.6 L310 135.6 L310.5 135.6 L311 135.6 L311.5 135.6 L312 135.6 L312.5 135.6 L313 135.6 L313.5 135.6 L314 135.6 L314.5 135.6 L315 135.6 L315.5 135.6 L316 135.6 L316.5 135.6 L317 135.6 L317.5 135.6 L318 135.6 L318.5 135.6 L319 135.6 L319.5 135.6 L320 135.6 L320.5 135.6 L321 135.6 L321.5 135.6 L322 135.6 L322.5 135.6 L323 135.6 L323.5 135.5 L324 135.5 L324.5 135.5 L325 135.5 L325.5 135.5 L326 135.5 L326.5 135.5 L327 135.5 L327.5 135.5 L328 135.4 L328.5 135.4 L329 135.4 L329.5 135.4 L330 135.3 L330.5 135.3 L331 135.3 L331.5 135.2 L332 135.2 L332.5 135.2 L333 135.1 L333.5 135 L334 135 L334.5 134.9 L335 134.8 L335.5 134.8 L336 134.7 L336.5 134.6 L337 134.5 L337.5 134.4 L338 134.2 L338.5 134.1 L339 134 L339.5 133.8 L340 133.6 L340.5 133.5 L341 133.3 L341.5 133 L342 132.8 L342.5 132.6 L343 132.3 L343.5 132 L344 131.7 L344.5 131.4 L345 131 L345.5 130.7 L346 130.2 L346.5 129.8 L347 129.4 L347.5 128.9 L348 128.4 L348.5 127.8 L349 127.2 L349.5 126.6 L350 126 L350.5 125.3 L351 124.6 L351.5 123.8 L352 123 L352.5 122.2 L353 121.3 L353.5 120.4 L354 119.4 L354.5 118.4 L355 117.4 L355.5 116.3 L356 115.1 L356.5 114 L357 112.7 L357.5 111.5 L358 110.2 L358.5 108.8 L359 107.4 L359.5 106 L360 104.5 L360.5 103 L361 101.5 L361.5 99.9 L362 98.2 L362.5 96.6 L363 94.9 L363.5 93.2 L364 91.5 L364.5 89.7 L365 87.9 L365.5 86.1 L366 84.3 L366.5 82.5 L367 80.7 L367.5 78.8 L368 77 L368.5 75.2 L369 73.4 L369.5 71.5 L370 69.8 L370.5 68 L371 66.3 L371.5 64.5 L372 62.9 L372.5 61.2 L373 59.6 L373.5 58.1 L374 56.6 L374.5 55.2 L375 53.8 L375.5 52.5 L376 51.2 L376.5 50.1 L377 49 L377.5 47.9 L378 47 L378.5 46.2 L379 45.4 L379.5 44.7 L380 44.1 L380.5 43.6 L381 43.2 L381.5 42.9 L382 42.7 L382.5 42.6 L383 42.6 L383.5 42.7 L384 42.8 L384.5 43.1 L385 43.4 L385.5 43.8 L386 44.2 L386.5 44.8 L387 45.4 L387.5 46.1 L388 46.9 L388.5 47.7 L389 48.6 L389.5 49.5 L390 50.6 L390.5 51.7 L391 52.8 L391.5 54 L392 55.3 L392.5 56.6 L393 57.9 L393.5 59.3 L394 60.7 L394.5 62.2 L395 63.7 L395.5 65.2 L396 66.8 L396.5 68.4 L397 70 L397.5 71.6 L398 73.2 L398.5 74.9 L399 76.5 L399.5 78.2 L400 79.9 L400.5 81.5 L401 83.2 L401.5 84.8 L402 86.5 L402.5 88.1 L403 89.7 L403.5 91.3 L404 92.9 L404.5 94.4 L405 96 L405.5 97.5 L406 99 L406.5 100.4 L407 101.8 L407.5 103.2 L408 104.6 L408.5 105.9 L409 107.2 L409.5 108.5 L410 109.7 L410.5 110.9 L411 112.1 L411.5 113.2 L412 114.3 L412.5 115.4 L413 116.4 L413.5 117.4 L414 118.3 L414.5 119.3 L415 120.1 L415.5 121 L416 121.8 L416.5 122.6 L417 123.3 L417.5 124 L418 124.7 L418.5 125.3 L419 126 L419.5 126.6 L420 127.1 L420.5 127.6 L421 128.2 L421.5 128.6 L422 129.1 L422.5 129.5 L423 129.9 L423.5 130.3 L424 130.7 L424.5 131 L425 131.3 L425.5 131.6 L426 131.9 L426.5 132.2 L427 132.4 L427.5 132.7 L428 132.9 L428.5 133.1 L429 133.3 L429.5 133.5 L430 133.6 L430.5 133.8 L431 133.9 L431.5 134.1 L432 134.2 L432.5 134.3 L433 134.4 L433.5 134.5 L434 134.6 L434.5 134.7 L435 134.8 L435.5 134.8 L436 134.9 L436.5 135 L437 135 L437.5 135.1 L438 135.1 L438.5 135.2 L439 135.2 L439.5 135.2 L440 135.3 L440.5 135.3 L441 135.3 L441.5 135.4 L442 135.4 L442.5 135.4 L443 135.4 L443.5 135.4 L444 135.5 L444.5 135.5 L445 135.5 L445.5 135.5 L446 135.5 L446.5 135.5 L447 135.5 L447.5 135.5 L448 135.5 L448.5 135.5 L449 135.6 L449.5 135.6 L450 135.6 L450.5 135.6 L451 135.6 L451.5 135.6 L452 135.6 L452.5 135.6 L453 135.6 L453.5 135.6 L454 135.6 L454.5 135.6 L455 135.6 L455.5 135.6 L456 135.6 L456.5 135.6 L457 135.6 L457.5 135.6 L458 135.6 L458.5 135.6 L459 135.6 L459.5 135.6 L460 135.6 L460.5 135.6 L461 135.6 L461.5 135.6 L462 135.6 L462.5 135.6 L463 135.6 L463.5 135.6 L464 135.6 L464.5 135.6 L465 135.6 L465.5 135.6 L466 135.6 L466.5 135.6 L467 135.6 L467.5 135.6 L468 135.6 L468.5 135.6 L469 135.6 L469.5 135.6 L470 135.6 L470.5 135.6 L471 135.6 L471.5 135.6 L472 135.6 L472.5 135.6 L473 135.6 L473.5 135.6 L474 135.6 L474.5 135.6 L475 135.6 L475.5 135.6 L476 135.6 L476.5 135.6 L477 135.6 L477.5 135.6 L478 135.6 L478.5 135.6 L479 135.6 L479.5 135.6 L480 135.6 L480.5 135.6 L481 135.6 L481.5 135.6 L482 135.6 L482.5 135.6 L483 135.6 L483.5 135.6 L484 135.6 L484.5 135.6 L485 135.6 L485.5 135.6 L486 135.6 L486.5 135.6 L487 135.6 L487.5 135.6 L488 135.6 L488.5 135.6 L489 135.6 L489.5 135.6 L490 135.6 L490.5 135.6 L491 135.6 L491.5 135.6 L492 135.6 L492.5 135.6 L493 135.6 L493.5 135.6 L494 135.6 L494.5 135.6 L495 135.6 L495.5 135.6 L496 135.6 L496.5 135.6 L497 135.6 L497.5 135.6 L498 135.6 L498.5 135.6 L499 135.6 L499.5 135.6 L500 135.6 L500.5 135.6 L501 135.6 L501.5 135.6 L502 135.6 L502.5 135.6 L503 135.6 L503.5 135.6 L504 135.6 L504.5 135.6 L505 135.6 L505.5 135.6 L506 135.6 L506.5 135.6 L507 135.6 L507.5 135.6 L508 135.6 L508.5 135.6 L509 135.6 L509.5 135.6 L510 135.6 L510.5 135.6 L511 135.6 L511 135.6 L510.5 135.6 L510 135.6 L509.5 135.6 L509 135.6 L508.5 135.6 L508 135.6 L507.5 135.6 L507 135.6 L506.5 135.6 L506 135.6 L505.5 135.6 L505 135.6 L504.5 135.6 L504 135.6 L503.5 135.6 L503 135.6 L502.5 135.6 L502 135.6 L501.5 135.6 L501 135.6 L500.5 135.6 L500 135.6 L499.5 135.6 L499 135.6 L498.5 135.6 L498 135.6 L497.5 135.6 L497 135.6 L496.5 135.6 L496 135.6 L495.5 135.6 L495 135.6 L494.5 135.6 L494 135.6 L493.5 135.6 L493 135.6 L492.5 135.6 L492 135.6 L491.5 135.6 L491 135.6 L490.5 135.6 L490 135.6 L489.5 135.6 L489 135.6 L488.5 135.6 L488 135.6 L487.5 135.6 L487 135.6 L486.5 135.6 L486 135.6 L485.5 135.6 L485 135.6 L484.5 135.6 L484 135.6 L483.5 135.6 L483 135.6 L482.5 135.6 L482 135.6 L481.5 135.6 L481 135.6 L480.5 135.6 L480 135.6 L479.5 135.6 L479 135.6 L478.5 135.6 L478 135.6 L477.5 135.6 L477 135.6 L476.5 135.6 L476 135.6 L475.5 135.6 L475 135.6 L474.5 135.6 L474 135.6 L473.5 135.6 L473 135.6 L472.5 135.6 L472 135.6 L471.5 135.6 L471 135.6 L470.5 135.6 L470 135.6 L469.5 135.6 L469 135.6 L468.5 135.6 L468 135.6 L467.5 135.6 L467 135.6 L466.5 135.6 L466 135.6 L465.5 135.6 L465 135.6 L464.5 135.6 L464 135.6 L463.5 135.6 L463 135.6 L462.5 135.6 L462 135.6 L461.5 135.6 L461 135.6 L460.5 135.6 L460 135.6 L459.5 135.6 L459 135.6 L458.5 135.6 L458 135.6 L457.5 135.6 L457 135.6 L456.5 135.6 L456 135.6 L455.5 135.6 L455 135.6 L454.5 135.6 L454 135.6 L453.5 135.6 L453 135.6 L452.5 135.6 L452 135.6 L451.5 135.6 L451 135.6 L450.5 135.6 L450 135.6 L449.5 135.6 L449 135.6 L448.5 135.6 L448 135.6 L447.5 135.6 L447 135.6 L446.5 135.6 L446 135.6 L445.5 135.6 L445 135.6 L444.5 135.6 L444 135.6 L443.5 135.6 L443 135.6 L442.5 135.6 L442 135.6 L441.5 135.6 L441 135.6 L440.5 135.6 L440 135.6 L439.5 135.6 L439 135.6 L438.5 135.6 L438 135.6 L437.5 135.6 L437 135.6 L436.5 135.6 L436 135.6 L435.5 135.6 L435 135.6 L434.5 135.6 L434 135.6 L433.5 135.6 L433 135.6 L432.5 135.6 L432 135.6 L431.5 135.6 L431 135.6 L430.5 135.6 L430 135.6 L429.5 135.6 L429 135.6 L428.5 135.6 L428 135.6 L427.5 135.6 L427 135.6 L426.5 135.6 L426 135.6 L425.5 135.6 L425 135.6 L424.5 135.6 L424 135.6 L423.5 135.6 L423 135.6 L422.5 135.6 L422 135.6 L421.5 135.6 L421 135.6 L420.5 135.6 L420 135.6 L419.5 135.6 L419 135.6 L418.5 135.6 L418 135.6 L417.5 135.6 L417 135.6 L416.5 135.6 L416 135.6 L415.5 135.6 L415 135.6 L414.5 135.6 L414 135.6 L413.5 135.6 L413 135.6 L412.5 135.6 L412 135.6 L411.5 135.6 L411 135.6 L410.5 135.6 L410 135.6 L409.5 135.6 L409 135.6 L408.5 135.6 L408 135.6 L407.5 135.6 L407 135.6 L406.5 135.6 L406 135.6 L405.5 135.6 L405 135.6 L404.5 135.6 L404 135.6 L403.5 135.6 L403 135.6 L402.5 135.6 L402 135.6 L401.5 135.6 L401 135.6 L400.5 135.6 L400 135.6 L399.5 135.6 L399 135.6 L398.5 135.6 L398 135.6 L397.5 135.6 L397 135.6 L396.5 135.6 L396 135.6 L395.5 135.6 L395 135.6 L394.5 135.6 L394 135.6 L393.5 135.6 L393 135.6 L392.5 135.6 L392 135.6 L391.5 135.6 L391 135.6 L390.5 135.6 L390 135.6 L389.5 135.6 L389 135.6 L388.5 135.6 L388 135.6 L387.5 135.6 L387 135.6 L386.5 135.6 L386 135.6 L385.5 135.6 L385 135.6 L384.5 135.6 L384 135.6 L383.5 135.6 L383 135.6 L382.5 135.6 L382 135.6 L381.5 135.6 L381 135.6 L380.5 135.6 L380 135.6 L379.5 135.6 L379 135.6 L378.5 135.6 L378 135.6 L377.5 135.6 L377 135.6 L376.5 135.6 L376 135.6 L375.5 135.6 L375 135.6 L374.5 135.6 L374 135.6 L373.5 135.6 L373 135.6 L372.5 135.6 L372 135.6 L371.5 135.6 L371 135.6 L370.5 135.6 L370 135.6 L369.5 135.6 L369 135.6 L368.5 135.6 L368 135.6 L367.5 135.6 L367 135.6 L366.5 135.6 L366 135.6 L365.5 135.6 L365 135.6 L364.5 135.6 L364 135.6 L363.5 135.6 L363 135.6 L362.5 135.6 L362 135.6 L361.5 135.6 L361 135.6 L360.5 135.6 L360 135.6 L359.5 135.6 L359 135.6 L358.5 135.6 L358 135.6 L357.5 135.6 L357 135.6 L356.5 135.6 L356 135.6 L355.5 135.6 L355 135.6 L354.5 135.6 L354 135.6 L353.5 135.6 L353 135.6 L352.5 135.6 L352 135.6 L351.5 135.6 L351 135.6 L350.5 135.6 L350 135.6 L349.5 135.6 L349 135.6 L348.5 135.6 L348 135.6 L347.5 135.6 L347 135.6 L346.5 135.6 L346 135.6 L345.5 135.6 L345 135.6 L344.5 135.6 L344 135.6 L343.5 135.6 L343 135.6 L342.5 135.6 L342 135.6 L341.5 135.6 L341 135.6 L340.5 135.6 L340 135.6 L339.5 135.6 L339 135.6 L338.5 135.6 L338 135.6 L337.5 135.6 L337 135.6 L336.5 135.6 L336 135.6 L335.5 135.6 L335 135.6 L334.5 135.6 L334 135.6 L333.5 135.6 L333 135.6 L332.5 135.6 L332 135.6 L331.5 135.6 L331 135.6 L330.5 135.6 L330 135.6 L329.5 135.6 L329 135.6 L328.5 135.6 L328 135.6 L327.5 135.6 L327 135.6 L326.5 135.6 L326 135.6 L325.5 135.6 L325 135.6 L324.5 135.6 L324 135.6 L323.5 135.6 L323 135.6 L322.5 135.6 L322 135.6 L321.5 135.6 L321 135.6 L320.5 135.6 L320 135.6 L319.5 135.6 L319 135.6 L318.5 135.6 L318 135.6 L317.5 135.6 L317 135.6 L316.5 135.6 L316 135.6 L315.5 135.6 L315 135.6 L314.5 135.6 L314 135.6 L313.5 135.6 L313 135.6 L312.5 135.6 L312 135.6 L311.5 135.6 L311 135.6 L310.5 135.6 L310 135.6 L309.5 135.6 L309 135.6 L308.5 135.6 L308 135.6 L307.5 135.6 L307 135.6 L306.5 135.6Z" fill="#d9b5b4"/>
<path d="M306.5 135.6 L307 135.6 L307.5 135.6 L308 135.6 L308.5 135.6 L309 135.6 L309.5 135.6 L310 135.6 L310.5 135.6 L311 135.6 L311.5 135.6 L312 135.6 L312.5 135.6 L313 135.6 L313.5 135.6 L314 135.6 L314.5 135.6 L315 135.6 L315.5 135.6 L316 135.6 L316.5 135.6 L317 135.6 L317.5 135.6 L318 135.6 L318.5 135.6 L319 135.6 L319.5 135.6 L320 135.6 L320.5 135.6 L321 135.6 L321.5 135.6 L322 135.6 L322.5 135.6 L323 135.6 L323.5 135.6 L324 135.6 L324.5 135.6 L325 135.6 L325.5 135.6 L326 135.6 L326.5 135.6 L327 135.6 L327.5 135.6 L328 135.6 L328.5 135.6 L329 135.6 L329.5 135.6 L330 135.6 L330.5 135.6 L331 135.6 L331.5 135.6 L332 135.6 L332.5 135.6 L333 135.6 L333.5 135.6 L334 135.6 L334.5 135.6 L335 135.6 L335.5 135.6 L336 135.6 L336.5 135.6 L337 135.6 L337.5 135.6 L338 135.6 L338.5 135.5 L339 135.4 L339.5 135.2 L340 135.1 L340.5 135 L341 134.9 L341.5 134.7 L342 134.6 L342.5 134.4 L343 134.3 L343.5 134.1 L344 134 L344.5 133.9 L345 133.7 L345.5 133.5 L346 133.4 L346.5 133.2 L347 133.1 L347.5 132.9 L348 132.7 L348.5 132.6 L349 132.4 L349.5 132.2 L350 132.1 L350.5 131.9 L351 131.7 L351.5 131.5 L352 131.3 L352.5 131.2 L353 131 L353.5 130.8 L354 130.6 L354.5 130.4 L355 130.2 L355.5 130 L356 129.8 L356.5 129.6 L357 129.4 L357.5 129.2 L358 129 L358.5 128.8 L359 128.6 L359.5 128.4 L360 128.2 L360.5 128 L361 127.8 L361.5 127.6 L362 127.3 L362.5 127.1 L363 126.9 L363.5 126.7 L364 126.5 L364.5 126.2 L365 126 L365.5 125.8 L366 125.6 L366.5 125.4 L367 125.1 L367.5 124.9 L368 124.7 L368.5 124.4 L369 124.2 L369.5 124 L370 123.8 L370.5 123.5 L371 123.3 L371.5 123.1 L372 122.9 L372.5 122.6 L373 122.4 L373.5 122.2 L374 122 L374.5 121.7 L375 121.5 L375.5 121.3 L376 121.1 L376.5 120.8 L377 120.6 L377.5 120.4 L378 120.2 L378.5 119.9 L379 119.7 L379.5 119.5 L380 119.3 L380.5 119.1 L381 118.9 L381.5 118.7 L382 118.5 L382.5 118.3 L383 118 L383.5 117.8 L384 117.6 L384.5 117.4 L385 117.3 L385.5 117.1 L386 116.9 L386.5 116.7 L387 116.5 L387.5 116.3 L388 116.1 L388.5 116 L389 115.8 L389.5 115.6 L390 115.4 L390.5 115.3 L391 115.1 L391.5 115 L392 114.8 L392.5 114.7 L393 114.5 L393.5 114.4 L394 114.2 L394.5 114.1 L395 114 L395.5 113.8 L396 113.7 L396.5 113.6 L397 113.5 L397.5 113.4 L398 113.3 L398.5 113.2 L399 113.1 L399.5 113 L400 112.9 L400.5 112.8 L401 112.7 L401.5 112.6 L402 112.6 L402.5 112.5 L403 112.5 L403.5 112.4 L404 112.3 L404.5 112.3 L405 112.3 L405.5 112.2 L406 112.2 L406.5 112.2 L407 112.1 L407.5 112.1 L408 112.1 L408.5 112.1 L409 112.1 L409.5 112.1 L410 112.1 L410.5 112.1 L411 112.1 L411.5 113.2 L412 114.3 L412.5 115.4 L413 116.4 L413.5 117.4 L414 118.3 L414.5 119.3 L415 120.1 L415.5 121 L416 121.8 L416.5 122.6 L417 123.3 L417.5 124 L418 124.7 L418.5 125.3 L419 126 L419.5 126.6 L420 127.1 L420.5 127.6 L421 128.2 L421.5 128.6 L422 129.1 L422.5 129.5 L423 129.9 L423.5 130.3 L424 130.7 L424.5 131 L425 131.3 L425.5 131.6 L426 131.9 L426.5 132.2 L427 132.4 L427.5 132.7 L428 132.9 L428.5 133.1 L429 133.3 L429.5 133.5 L430 133.6 L430.5 133.8 L431 133.9 L431.5 134.1 L432 134.2 L432.5 134.3 L433 134.4 L433.5 134.5 L434 134.6 L434.5 134.7 L435 134.8 L435.5 134.8 L436 134.9 L436.5 135 L437 135 L437.5 135.1 L438 135.1 L438.5 135.2 L439 135.2 L439.5 135.2 L440 135.3 L440.5 135.3 L441 135.3 L441.5 135.4 L442 135.4 L442.5 135.4 L443 135.4 L443.5 135.4 L444 135.5 L444.5 135.5 L445 135.5 L445.5 135.5 L446 135.5 L446.5 135.5 L447 135.5 L447.5 135.5 L448 135.5 L448.5 135.5 L449 135.6 L449.5 135.6 L450 135.6 L450.5 135.6 L451 135.6 L451.5 135.6 L452 135.6 L452.5 135.6 L453 135.6 L453.5 135.6 L454 135.6 L454.5 135.6 L455 135.6 L455.5 135.6 L456 135.6 L456.5 135.6 L457 135.6 L457.5 135.6 L458 135.6 L458.5 135.6 L459 135.6 L459.5 135.6 L460 135.6 L460.5 135.6 L461 135.6 L461.5 135.6 L462 135.6 L462.5 135.6 L463 135.6 L463.5 135.6 L464 135.6 L464.5 135.6 L465 135.6 L465.5 135.6 L466 135.6 L466.5 135.6 L467 135.6 L467.5 135.6 L468 135.6 L468.5 135.6 L469 135.6 L469.5 135.6 L470 135.6 L470.5 135.6 L471 135.6 L471.5 135.6 L472 135.6 L472.5 135.6 L473 135.6 L473.5 135.6 L474 135.6 L474.5 135.6 L475 135.6 L475.5 135.6 L476 135.6 L476.5 135.6 L477 135.6 L477.5 135.6 L478 135.6 L478.5 135.6 L479 135.6 L479.5 135.6 L480 135.6 L480.5 135.6 L481 135.6 L481.5 135.6 L482 135.6 L482.5 135.6 L483 135.6 L483.5 135.6 L484 135.6 L484.5 135.6 L485 135.6 L485.5 135.6 L486 135.6 L486.5 135.6 L487 135.6 L487.5 135.6 L488 135.6 L488.5 135.6 L489 135.6 L489.5 135.6 L490 135.6 L490.5 135.6 L491 135.6 L491.5 135.6 L492 135.6 L492.5 135.6 L493 135.6 L493.5 135.6 L494 135.6 L494.5 135.6 L495 135.6 L495.5 135.6 L496 135.6 L496.5 135.6 L497 135.6 L497.5 135.6 L498 135.6 L498.5 135.6 L499 135.6 L499.5 135.6 L500 135.6 L500.5 135.6 L501 135.6 L501.5 135.6 L502 135.6 L502.5 135.6 L503 135.6 L503.5 135.6 L504 135.6 L504.5 135.6 L505 135.6 L505.5 135.6 L506 135.6 L506.5 135.6 L507 135.6 L507.5 135.6 L508 135.6 L508.5 135.6 L509 135.6 L509.5 135.6 L510 135.6 L510.5 135.6 L511 135.6 L511 135.6 L510.5 135.6 L510 135.6 L509.5 135.6 L509 135.6 L508.5 135.6 L508 135.6 L507.5 135.6 L507 135.6 L506.5 135.6 L506 135.6 L505.5 135.6 L505 135.6 L504.5 135.6 L504 135.6 L503.5 135.6 L503 135.6 L502.5 135.6 L502 135.6 L501.5 135.6 L501 135.6 L500.5 135.6 L500 135.6 L499.5 135.6 L499 135.6 L498.5 135.6 L498 135.6 L497.5 135.6 L497 135.6 L496.5 135.6 L496 135.6 L495.5 135.6 L495 135.6 L494.5 135.6 L494 135.6 L493.5 135.6 L493 135.6 L492.5 135.6 L492 135.6 L491.5 135.6 L491 135.6 L490.5 135.6 L490 135.6 L489.5 135.6 L489 135.6 L488.5 135.6 L488 135.6 L487.5 135.6 L487 135.6 L486.5 135.6 L486 135.6 L485.5 135.6 L485 135.6 L484.5 135.6 L484 135.6 L483.5 135.6 L483 135.6 L482.5 135.6 L482 135.6 L481.5 135.6 L481 135.6 L480.5 135.6 L480 135.6 L479.5 135.6 L479 135.6 L478.5 135.6 L478 135.6 L477.5 135.6 L477 135.6 L476.5 135.6 L476 135.6 L475.5 135.6 L475 135.6 L474.5 135.6 L474 135.6 L473.5 135.6 L473 135.6 L472.5 135.6 L472 135.6 L471.5 135.6 L471 135.6 L470.5 135.6 L470 135.6 L469.5 135.6 L469 135.6 L468.5 135.6 L468 135.6 L467.5 135.6 L467 135.6 L466.5 135.6 L466 135.6 L465.5 135.6 L465 135.6 L464.5 135.6 L464 135.6 L463.5 135.6 L463 135.6 L462.5 135.6 L462 135.6 L461.5 135.6 L461 135.6 L460.5 135.6 L460 135.6 L459.5 135.6 L459 135.6 L458.5 135.6 L458 135.6 L457.5 135.6 L457 135.6 L456.5 135.6 L456 135.6 L455.5 135.6 L455 135.6 L454.5 135.6 L454 135.6 L453.5 135.6 L453 135.6 L452.5 135.6 L452 135.6 L451.5 135.6 L451 135.6 L450.5 135.6 L450 135.6 L449.5 135.6 L449 135.6 L448.5 135.6 L448 135.6 L447.5 135.6 L447 135.6 L446.5 135.6 L446 135.6 L445.5 135.6 L445 135.6 L444.5 135.6 L444 135.6 L443.5 135.6 L443 135.6 L442.5 135.6 L442 135.6 L441.5 135.6 L441 135.6 L440.5 135.6 L440 135.6 L439.5 135.6 L439 135.6 L438.5 135.6 L438 135.6 L437.5 135.6 L437 135.6 L436.5 135.6 L436 135.6 L435.5 135.6 L435 135.6 L434.5 135.6 L434 135.6 L433.5 135.6 L433 135.6 L432.5 135.6 L432 135.6 L431.5 135.6 L431 135.6 L430.5 135.6 L430 135.6 L429.5 135.6 L429 135.6 L428.5 135.6 L428 135.6 L427.5 135.6 L427 135.6 L426.5 135.6 L426 135.6 L425.5 135.6 L425 135.6 L424.5 135.6 L424 135.6 L423.5 135.6 L423 135.6 L422.5 135.6 L422 135.6 L421.5 135.6 L421 135.6 L420.5 135.6 L420 135.6 L419.5 135.6 L419 135.6 L418.5 135.6 L418 135.6 L417.5 135.6 L417 135.6 L416.5 135.6 L416 135.6 L415.5 135.6 L415 135.6 L414.5 135.6 L414 135.6 L413.5 135.6 L413 135.6 L412.5 135.6 L412 135.6 L411.5 135.6 L411 135.6 L410.5 135.6 L410 135.6 L409.5 135.6 L409 135.6 L408.5 135.6 L408 135.6 L407.5 135.6 L407 135.6 L406.5 135.6 L406 135.6 L405.5 135.6 L405 135.6 L404.5 135.6 L404 135.6 L403.5 135.6 L403 135.6 L402.5 135.6 L402 135.6 L401.5 135.6 L401 135.6 L400.5 135.6 L400 135.6 L399.5 135.6 L399 135.6 L398.5 135.6 L398 135.6 L397.5 135.6 L397 135.6 L396.5 135.6 L396 135.6 L395.5 135.6 L395 135.6 L394.5 135.6 L394 135.6 L393.5 135.6 L393 135.6 L392.5 135.6 L392 135.6 L391.5 135.6 L391 135.6 L390.5 135.6 L390 135.6 L389.5 135.6 L389 135.6 L388.5 135.6 L388 135.6 L387.5 135.6 L387 135.6 L386.5 135.6 L386 135.6 L385.5 135.6 L385 135.6 L384.5 135.6 L384 135.6 L383.5 135.6 L383 135.6 L382.5 135.6 L382 135.6 L381.5 135.6 L381 135.6 L380.5 135.6 L380 135.6 L379.5 135.6 L379 135.6 L378.5 135.6 L378 135.6 L377.5 135.6 L377 135.6 L376.5 135.6 L376 135.6 L375.5 135.6 L375 135.6 L374.5 135.6 L374 135.6 L373.5 135.6 L373 135.6 L372.5 135.6 L372 135.6 L371.5 135.6 L371 135.6 L370.5 135.6 L370 135.6 L369.5 135.6 L369 135.6 L368.5 135.6 L368 135.6 L367.5 135.6 L367 135.6 L366.5 135.6 L366 135.6 L365.5 135.6 L365 135.6 L364.5 135.6 L364 135.6 L363.5 135.6 L363 135.6 L362.5 135.6 L362 135.6 L361.5 135.6 L361 135.6 L360.5 135.6 L360 135.6 L359.5 135.6 L359 135.6 L358.5 135.6 L358 135.6 L357.5 135.6 L357 135.6 L356.5 135.6 L356 135.6 L355.5 135.6 L355 135.6 L354.5 135.6 L354 135.6 L353.5 135.6 L353 135.6 L352.5 135.6 L352 135.6 L351.5 135.6 L351 135.6 L350.5 135.6 L350 135.6 L349.5 135.6 L349 135.6 L348.5 135.6 L348 135.6 L347.5 135.6 L347 135.6 L346.5 135.6 L346 135.6 L345.5 135.6 L345 135.6 L344.5 135.6 L344 135.6 L343.5 135.6 L343 135.6 L342.5 135.6 L342 135.6 L341.5 135.6 L341 135.6 L340.5 135.6 L340 135.6 L339.5 135.6 L339 135.6 L338.5 135.6 L338 135.6 L337.5 135.6 L337 135.6 L336.5 135.6 L336 135.6 L335.5 135.6 L335 135.6 L334.5 135.6 L334 135.6 L333.5 135.6 L333 135.6 L332.5 135.6 L332 135.6 L331.5 135.6 L331 135.6 L330.5 135.6 L330 135.6 L329.5 135.6 L329 135.6 L328.5 135.6 L328 135.6 L327.5 135.6 L327 135.6 L326.5 135.6 L326 135.6 L325.5 135.6 L325 135.6 L324.5 135.6 L324 135.6 L323.5 135.6 L323 135.6 L322.5 135.6 L322 135.6 L321.5 135.6 L321 135.6 L320.5 135.6 L320 135.6 L319.5 135.6 L319 135.6 L318.5 135.6 L318 135.6 L317.5 135.6 L317 135.6 L316.5 135.6 L316 135.6 L315.5 135.6 L315 135.6 L314.5 135.6 L314 135.6 L313.5 135.6 L313 135.6 L312.5 135.6 L312 135.6 L311.5 135.6 L311 135.6 L310.5 135.6 L310 135.6 L309.5 135.6 L309 135.6 L308.5 135.6 L308 135.6 L307.5 135.6 L307 135.6 L306.5 135.6Z" fill="#929270"/>
<path d="M306.5 135.6H511" stroke="#d81e2c" stroke-width="2.2"/>
<g fill="#fff" stroke="#d868ac" stroke-width="0.75"><circle cx="306.5" cy="134.9" r="1.1"/><circle cx="309.5" cy="134.7" r="1.1"/><circle cx="312.5" cy="134.5" r="1.1"/><circle cx="315.5" cy="134.2" r="1.1"/><circle cx="318.5" cy="133.9" r="1.1"/><circle cx="321.5" cy="133.6" r="1.1"/><circle cx="324.5" cy="133.2" r="1.1"/><circle cx="327.5" cy="132.7" r="1.1"/><circle cx="330.5" cy="132.2" r="1.1"/><circle cx="333.5" cy="131.6" r="1.1"/><circle cx="336.5" cy="131" r="1.1"/><circle cx="339.5" cy="130.2" r="1.1"/><circle cx="342.5" cy="129.4" r="1.1"/><circle cx="345" cy="128.7" r="1.1"/><circle cx="347.5" cy="127.9" r="1.1"/><circle cx="350" cy="127.1" r="1.1"/><circle cx="352.5" cy="126.2" r="1.1"/><circle cx="355" cy="125.2" r="1.1"/><circle cx="357.5" cy="124.2" r="1.1"/><circle cx="360" cy="123.2" r="1.1"/><circle cx="362.5" cy="122.1" r="1.1"/><circle cx="365" cy="121" r="1.1"/><circle cx="367.5" cy="119.9" r="1.1"/><circle cx="370" cy="118.8" r="1.1"/><circle cx="372.5" cy="117.6" r="1.1"/><circle cx="375" cy="116.5" r="1.1"/><circle cx="377.5" cy="115.4" r="1.1"/><circle cx="380" cy="114.3" r="1.1"/><circle cx="382.5" cy="113.3" r="1.1"/><circle cx="385" cy="112.3" r="1.1"/><circle cx="387.5" cy="111.3" r="1.1"/><circle cx="390" cy="110.4" r="1.1"/><circle cx="392.5" cy="109.7" r="1.1"/><circle cx="395.5" cy="108.8" r="1.1"/><circle cx="398.5" cy="108.2" r="1.1"/><circle cx="401.5" cy="107.6" r="1.1"/><circle cx="404.5" cy="107.3" r="1.1"/><circle cx="407.5" cy="107.1" r="1.1"/><circle cx="410.5" cy="107.1" r="1.1"/><circle cx="413.5" cy="107.3" r="1.1"/><circle cx="416.5" cy="107.7" r="1.1"/><circle cx="419.5" cy="108.2" r="1.1"/><circle cx="422.5" cy="108.9" r="1.1"/><circle cx="425.5" cy="109.7" r="1.1"/><circle cx="428" cy="110.5" r="1.1"/><circle cx="430.5" cy="111.4" r="1.1"/><circle cx="433" cy="112.4" r="1.1"/><circle cx="435.5" cy="113.4" r="1.1"/><circle cx="438" cy="114.5" r="1.1"/><circle cx="440.5" cy="115.6" r="1.1"/><circle cx="443" cy="116.7" r="1.1"/><circle cx="445.5" cy="117.9" r="1.1"/><circle cx="448" cy="119" r="1.1"/><circle cx="450.5" cy="120.2" r="1.1"/><circle cx="453" cy="121.3" r="1.1"/><circle cx="455.5" cy="122.4" r="1.1"/><circle cx="458" cy="123.5" r="1.1"/><circle cx="460.5" cy="124.5" r="1.1"/><circle cx="463" cy="125.5" r="1.1"/><circle cx="465.5" cy="126.4" r="1.1"/><circle cx="468" cy="127.3" r="1.1"/><circle cx="470.5" cy="128.2" r="1.1"/><circle cx="473" cy="129" r="1.1"/><circle cx="475.5" cy="129.7" r="1.1"/><circle cx="478.5" cy="130.5" r="1.1"/><circle cx="481.5" cy="131.2" r="1.1"/><circle cx="484.5" cy="131.8" r="1.1"/><circle cx="487.5" cy="132.4" r="1.1"/><circle cx="490.5" cy="132.9" r="1.1"/><circle cx="493.5" cy="133.3" r="1.1"/><circle cx="496.5" cy="133.7" r="1.1"/><circle cx="499.5" cy="134.1" r="1.1"/><circle cx="502.5" cy="134.3" r="1.1"/><circle cx="505.5" cy="134.6" r="1.1"/><circle cx="508.5" cy="134.8" r="1.1"/></g>
<path d="M306.5 134.3 L307 134.3 L307.5 134.3 L308 134.3 L308.5 134.2 L309 134.2 L309.5 134.2 L310 134.1 L310.5 134.1 L311 134.1 L311.5 134 L312 134 L312.5 134 L313 133.9 L313.5 133.9 L314 133.8 L314.5 133.8 L315 133.8 L315.5 133.7 L316 133.7 L316.5 133.6 L317 133.6 L317.5 133.5 L318 133.5 L318.5 133.4 L319 133.4 L319.5 133.3 L320 133.2 L320.5 133.2 L321 133.1 L321.5 133.1 L322 133 L322.5 132.9 L323 132.8 L323.5 132.8 L324 132.7 L324.5 132.6 L325 132.5 L325.5 132.5 L326 132.4 L326.5 132.3 L327 132.2 L327.5 132.1 L328 132 L328.5 131.9 L329 131.8 L329.5 131.7 L330 131.6 L330.5 131.4 L331 131.3 L331.5 131.2 L332 131 L332.5 130.9 L333 130.7 L333.5 130.6 L334 130.4 L334.5 130.2 L335 130.1 L335.5 129.9 L336 129.7 L336.5 129.5 L337 129.2 L337.5 129 L338 128.8 L338.5 128.5 L339 128.2 L339.5 128 L340 127.7 L340.5 127.3 L341 127 L341.5 126.7 L342 126.3 L342.5 125.9 L343 125.5 L343.5 125.1 L344 124.6 L344.5 124.1 L345 123.6 L345.5 123.1 L346 122.5 L346.5 121.9 L347 121.3 L347.5 120.7 L348 120 L348.5 119.3 L349 118.5 L349.5 117.8 L350 116.9 L350.5 116.1 L351 115.2 L351.5 114.2 L352 113.3 L352.5 112.2 L353 111.2 L353.5 110.1 L354 108.9 L354.5 107.7 L355 106.5 L355.5 105.2 L356 103.9 L356.5 102.5 L357 101.1 L357.5 99.6 L358 98.1 L358.5 96.5 L359 94.9 L359.5 93.3 L360 91.6 L360.5 89.9 L361 88.1 L361.5 86.3 L362 84.5 L362.5 82.6 L363 80.7 L363.5 78.8 L364 76.8 L364.5 74.8 L365 72.8 L365.5 70.8 L366 68.8 L366.5 66.7 L367 64.7 L367.5 62.6 L368 60.6 L368.5 58.5 L369 56.5 L369.5 54.4 L370 52.4 L370.5 50.4 L371 48.5 L371.5 46.5 L372 44.6 L372.5 42.8 L373 41 L373.5 39.2 L374 37.5 L374.5 35.8 L375 34.2 L375.5 32.7 L376 31.2 L376.5 29.8 L377 28.5 L377.5 27.2 L378 26.1 L378.5 25 L379 24 L379.5 23.1 L380 22.3 L380.5 21.6 L381 21 L381.5 20.5 L382 20.1 L382.5 19.8 L383 19.6 L383.5 19.4 L384 19.4 L384.5 19.4 L385 19.5 L385.5 19.7 L386 20 L386.5 20.4 L387 20.8 L387.5 21.3 L388 21.9 L388.5 22.5 L389 23.3 L389.5 24.1 L390 24.9 L390.5 25.9 L391 26.8 L391.5 27.9 L392 29 L392.5 30.1 L393 31.3 L393.5 32.6 L394 33.9 L394.5 35.2 L395 36.6 L395.5 38 L396 39.4 L396.5 40.9 L397 42.4 L397.5 43.9 L398 45.4 L398.5 47 L399 48.5 L399.5 50.1 L400 51.6 L400.5 53.2 L401 54.8 L401.5 56.4 L402 57.9 L402.5 59.5 L403 61 L403.5 62.6 L404 64.1 L404.5 65.6 L405 67.1 L405.5 68.6 L406 70 L406.5 71.5 L407 72.9 L407.5 74.3 L408 75.6 L408.5 76.9 L409 78.2 L409.5 79.5 L410 80.8 L410.5 82 L411 83.1 L411.5 84.3 L412 85.4 L412.5 86.5 L413 87.6 L413.5 88.6 L414 89.6 L414.5 90.6 L415 91.5 L415.5 92.4 L416 93.3 L416.5 94.1 L417 94.9 L417.5 95.7 L418 96.5 L418.5 97.2 L419 98 L419.5 98.6 L420 99.3 L420.5 100 L421 100.6 L421.5 101.2 L422 101.7 L422.5 102.3 L423 102.8 L423.5 103.4 L424 103.9 L424.5 104.3 L425 104.8 L425.5 105.3 L426 105.7 L426.5 106.1 L427 106.5 L427.5 106.9 L428 107.3 L428.5 107.7 L429 108.1 L429.5 108.4 L430 108.8 L430.5 109.1 L431 109.4 L431.5 109.8 L432 110.1 L432.5 110.4 L433 110.7 L433.5 111 L434 111.3 L434.5 111.6 L435 111.9 L435.5 112.1 L436 112.4 L436.5 112.7 L437 113 L437.5 113.2 L438 113.5 L438.5 113.8 L439 114 L439.5 114.3 L440 114.5 L440.5 114.8 L441 115 L441.5 115.3 L442 115.5 L442.5 115.8 L443 116 L443.5 116.3 L444 116.5 L444.5 116.8 L445 117 L445.5 117.2 L446 117.5 L446.5 117.7 L447 118 L447.5 118.2 L448 118.4 L448.5 118.7 L449 118.9 L449.5 119.2 L450 119.4 L450.5 119.6 L451 119.8 L451.5 120.1 L452 120.3 L452.5 120.5 L453 120.8 L453.5 121 L454 121.2 L454.5 121.4 L455 121.7 L455.5 121.9 L456 122.1 L456.5 122.3 L457 122.5 L457.5 122.7 L458 123 L458.5 123.2 L459 123.4 L459.5 123.6 L460 123.8 L460.5 124 L461 124.2 L461.5 124.4 L462 124.6 L462.5 124.8 L463 125 L463.5 125.2 L464 125.4 L464.5 125.6 L465 125.8 L465.5 125.9 L466 126.1 L466.5 126.3 L467 126.5 L467.5 126.7 L468 126.8 L468.5 127 L469 127.2 L469.5 127.3 L470 127.5 L470.5 127.7 L471 127.8 L471.5 128 L472 128.2 L472.5 128.3 L473 128.5 L473.5 128.6 L474 128.8 L474.5 128.9 L475 129 L475.5 129.2 L476 129.3 L476.5 129.5 L477 129.6 L477.5 129.7 L478 129.9 L478.5 130 L479 130.1 L479.5 130.2 L480 130.4 L480.5 130.5 L481 130.6 L481.5 130.7 L482 130.8 L482.5 130.9 L483 131 L483.5 131.1 L484 131.2 L484.5 131.3 L485 131.4 L485.5 131.5 L486 131.6 L486.5 131.7 L487 131.8 L487.5 131.9 L488 132 L488.5 132.1 L489 132.2 L489.5 132.3 L490 132.3 L490.5 132.4 L491 132.5 L491.5 132.6 L492 132.6 L492.5 132.7 L493 132.8 L493.5 132.8 L494 132.9 L494.5 133 L495 133 L495.5 133.1 L496 133.2 L496.5 133.2 L497 133.3 L497.5 133.3 L498 133.4 L498.5 133.4 L499 133.5 L499.5 133.6 L500 133.6 L500.5 133.6 L501 133.7 L501.5 133.7 L502 133.8 L502.5 133.8 L503 133.9 L503.5 133.9 L504 133.9 L504.5 134 L505 134 L505.5 134.1 L506 134.1 L506.5 134.1 L507 134.2 L507.5 134.2 L508 134.2 L508.5 134.3 L509 134.3 L509.5 134.3 L510 134.3 L510.5 134.4 L511 134.4" fill="none" stroke="#c8141e" stroke-width="2.0" stroke-linejoin="round"/>
<g fill="#fff" stroke="#22347a" stroke-width="0.75"><circle cx="336.5" cy="134.6" r="1.35"/><circle cx="339.5" cy="133.8" r="1.35"/><circle cx="342.5" cy="132.6" r="1.35"/><circle cx="345.5" cy="130.7" r="1.35"/><circle cx="348" cy="128.4" r="1.35"/><circle cx="350" cy="126" r="1.35"/><circle cx="352" cy="123" r="1.35"/><circle cx="353.5" cy="120.4" r="1.35"/><circle cx="355" cy="117.4" r="1.35"/><circle cx="356.5" cy="114" r="1.35"/><circle cx="358" cy="110.2" r="1.35"/><circle cx="359.5" cy="106" r="1.35"/><circle cx="360.5" cy="103" r="1.35"/><circle cx="361.5" cy="99.9" r="1.35"/><circle cx="362.5" cy="96.6" r="1.35"/><circle cx="363.5" cy="93.2" r="1.35"/><circle cx="364.5" cy="89.7" r="1.35"/><circle cx="365.5" cy="86.1" r="1.35"/><circle cx="366.5" cy="82.5" r="1.35"/><circle cx="367.5" cy="78.8" r="1.35"/><circle cx="368.5" cy="75.2" r="1.35"/><circle cx="369.5" cy="71.5" r="1.35"/><circle cx="370.5" cy="68" r="1.35"/><circle cx="371.5" cy="64.5" r="1.35"/><circle cx="372.5" cy="61.2" r="1.35"/><circle cx="373.5" cy="58.1" r="1.35"/><circle cx="374.5" cy="55.2" r="1.35"/><circle cx="376" cy="51.2" r="1.35"/><circle cx="377.5" cy="47.9" r="1.35"/><circle cx="379.5" cy="44.7" r="1.35"/><circle cx="382" cy="42.7" r="1.35"/><circle cx="385" cy="43.4" r="1.35"/><circle cx="387.5" cy="46.1" r="1.35"/><circle cx="389.5" cy="49.5" r="1.35"/><circle cx="391" cy="52.8" r="1.35"/><circle cx="392.5" cy="56.6" r="1.35"/><circle cx="394" cy="60.7" r="1.35"/><circle cx="395" cy="63.7" r="1.35"/><circle cx="396" cy="66.8" r="1.35"/><circle cx="397" cy="70" r="1.35"/><circle cx="398" cy="73.2" r="1.35"/><circle cx="399" cy="76.5" r="1.35"/><circle cx="400" cy="79.9" r="1.35"/><circle cx="401" cy="83.2" r="1.35"/><circle cx="402" cy="86.5" r="1.35"/><circle cx="403" cy="89.7" r="1.35"/><circle cx="404" cy="92.9" r="1.35"/><circle cx="405" cy="96" r="1.35"/><circle cx="406" cy="99" r="1.35"/><circle cx="407" cy="101.8" r="1.35"/><circle cx="408.5" cy="105.9" r="1.35"/><circle cx="410" cy="109.7" r="1.35"/><circle cx="411.5" cy="113.2" r="1.35"/><circle cx="413" cy="116.4" r="1.35"/><circle cx="414.5" cy="119.3" r="1.35"/><circle cx="416.5" cy="122.6" r="1.35"/><circle cx="418.5" cy="125.3" r="1.35"/><circle cx="420.5" cy="127.6" r="1.35"/><circle cx="423" cy="129.9" r="1.35"/><circle cx="425.5" cy="131.6" r="1.35"/><circle cx="428.5" cy="133.1" r="1.35"/><circle cx="431.5" cy="134.1" r="1.35"/><circle cx="434.5" cy="134.7" r="1.35"/><circle cx="437.5" cy="135.1" r="1.35"/></g>
<rect x="38.5" y="193.8" width="208.0" height="154.7" fill="none" stroke="#444" stroke-width="1.2"/>
<path d="M38.5 348.5v-3M73.2 348.5v-3M107.8 348.5v-3M142.5 348.5v-3M177.2 348.5v-3M211.8 348.5v-3M246.5 348.5v-3M55.8 348.5v-2M90.5 348.5v-2M125.2 348.5v-2M159.8 348.5v-2M194.5 348.5v-2M229.2 348.5v-2" stroke="#444" stroke-width="1" fill="none"/>
<text x="38.5" y="362" font-size="12" text-anchor="middle" fill="#111" stroke="#111" stroke-width="0.2">526</text>
<text x="73.2" y="362" font-size="12" text-anchor="middle" fill="#111" stroke="#111" stroke-width="0.2">527</text>
<text x="107.8" y="362" font-size="12" text-anchor="middle" fill="#111" stroke="#111" stroke-width="0.2">528</text>
<text x="142.5" y="362" font-size="12" text-anchor="middle" fill="#111" stroke="#111" stroke-width="0.2">529</text>
<text x="177.2" y="362" font-size="12" text-anchor="middle" fill="#111" stroke="#111" stroke-width="0.2">530</text>
<text x="211.8" y="362" font-size="12" text-anchor="middle" fill="#111" stroke="#111" stroke-width="0.2">531</text>
<text x="246.5" y="362" font-size="12" text-anchor="middle" fill="#111" stroke="#111" stroke-width="0.2">532</text>
<text x="148" y="377.1" font-size="12.2" text-anchor="middle" fill="#111" stroke="#111" stroke-width="0.2" >Binding Energy (eV)</text>
<text x="1.4" y="205.3" font-size="17.4" text-anchor="start" fill="#111" stroke="#111" stroke-width="0.35">(c)</text>
<text x="240" y="208.6" font-size="12.3" text-anchor="end" fill="#111" stroke="#111" stroke-width="0.2" >O 1s</text>
<text x="178.5" y="208.8" font-size="12.5" text-anchor="start" fill="#111" stroke="#111" stroke-width="0.2" >ZnO</text>
<text x="111.8" y="208.2" font-size="12" text-anchor="start" fill="#111" stroke="#111" font-family="Liberation Sans, sans-serif" stroke-width="0">V<tspan font-size="6" dy="4" dx="0.5">o</tspan></text>
<path d="M38.5 326.9 L39 326.9 L39.5 326.9 L40 326.8 L40.5 326.8 L41 326.8 L41.5 326.8 L42 326.8 L42.5 326.8 L43 326.8 L43.5 326.7 L44 326.7 L44.5 326.7 L45 326.7 L45.5 326.7 L46 326.6 L46.5 326.6 L47 326.6 L47.5 326.6 L48 326.5 L48.5 326.5 L49 326.5 L49.5 326.4 L50 326.4 L50.5 326.3 L51 326.3 L51.5 326.3 L52 326.2 L52.5 326.2 L53 326.1 L53.5 326 L54 326 L54.5 325.9 L55 325.8 L55.5 325.8 L56 325.7 L56.5 325.6 L57 325.5 L57.5 325.4 L58 325.3 L58.5 325.2 L59 325.1 L59.5 325 L60 324.9 L60.5 324.8 L61 324.7 L61.5 324.5 L62 324.4 L62.5 324.2 L63 324.1 L63.5 323.9 L64 323.8 L64.5 323.6 L65 323.4 L65.5 323.2 L66 323 L66.5 322.8 L67 322.6 L67.5 322.3 L68 322.1 L68.5 321.8 L69 321.6 L69.5 321.3 L70 321 L70.5 320.7 L71 320.4 L71.5 320.1 L72 319.7 L72.5 319.4 L73 319 L73.5 318.6 L74 318.3 L74.5 317.8 L75 317.4 L75.5 317 L76 316.5 L76.5 316.1 L77 315.6 L77.5 315.1 L78 314.6 L78.5 314.1 L79 313.5 L79.5 312.9 L80 312.4 L80.5 311.7 L81 311.1 L81.5 310.5 L82 309.8 L82.5 309.2 L83 308.5 L83.5 307.7 L84 307 L84.5 306.3 L85 305.5 L85.5 304.7 L86 303.9 L86.5 303.1 L87 302.2 L87.5 301.3 L88 300.4 L88.5 299.5 L89 298.6 L89.5 297.7 L90 296.7 L90.5 295.7 L91 294.7 L91.5 293.7 L92 292.6 L92.5 291.6 L93 290.5 L93.5 289.4 L94 288.3 L94.5 287.2 L95 286 L95.5 284.9 L96 283.7 L96.5 282.5 L97 281.3 L97.5 280.1 L98 278.9 L98.5 277.6 L99 276.4 L99.5 275.1 L100 273.8 L100.5 272.6 L101 271.3 L101.5 270 L102 268.7 L102.5 267.4 L103 266.1 L103.5 264.8 L104 263.5 L104.5 262.1 L105 260.8 L105.5 259.5 L106 258.2 L106.5 256.9 L107 255.6 L107.5 254.3 L108 253 L108.5 251.7 L109 250.5 L109.5 249.2 L110 248 L110.5 246.7 L111 245.5 L111.5 244.3 L112 243.1 L112.5 242 L113 240.8 L113.5 239.7 L114 238.6 L114.5 237.5 L115 236.4 L115.5 235.4 L116 234.4 L116.5 233.4 L117 232.4 L117.5 231.5 L118 230.6 L118.5 229.8 L119 228.9 L119.5 228.2 L120 227.4 L120.5 226.7 L121 226 L121.5 225.3 L122 224.7 L122.5 224.2 L123 223.6 L123.5 223.1 L124 222.7 L124.5 222.3 L125 221.9 L125.5 221.6 L126 221.3 L126.5 221 L127 220.9 L127.5 220.7 L128 220.6 L128.5 220.5 L129 220.5 L129.5 220.5 L130 220.6 L130.5 220.7 L131 220.9 L131.5 221 L132 221.3 L132.5 221.6 L133 221.9 L133.5 222.3 L134 222.7 L134.5 223.1 L135 223.6 L135.5 224.2 L136 224.7 L136.5 225.3 L137 226 L137.5 226.7 L138 227.4 L138.5 228.2 L139 228.9 L139.5 229.8 L140 230.6 L140.5 231.5 L141 232.4 L141.5 233.4 L142 234.4 L142.5 235.4 L143 236.4 L143.5 237.5 L144 238.6 L144.5 239.7 L145 240.8 L145.5 242 L146 243.1 L146.5 244.3 L147 245.5 L147.5 246.7 L148 248 L148.5 249.2 L149 250.5 L149.5 251.7 L150 253 L150.5 254.3 L151 255.6 L151.5 256.9 L152 258.2 L152.5 259.5 L153 260.8 L153.5 262.1 L154 263.5 L154.5 264.8 L155 266.1 L155.5 267.4 L156 268.7 L156.5 270 L157 271.3 L157.5 272.6 L158 273.8 L158.5 275.1 L159 276.4 L159.5 277.6 L160 278.9 L160.5 280.1 L161 281.3 L161.5 282.5 L162 283.7 L162.5 284.9 L163 286 L163.5 287.2 L164 288.3 L164.5 289.4 L165 290.5 L165.5 291.6 L166 292.6 L166.5 293.7 L167 294.7 L167.5 295.7 L168 296.7 L168.5 297.7 L169 298.6 L169.5 299.5 L170 300.4 L170.5 301.3 L171 302.2 L171.5 303.1 L172 303.9 L172.5 304.7 L173 305.5 L173.5 306.3 L174 307 L174.5 307.7 L175 308.5 L175.5 309.2 L176 309.8 L176.5 310.5 L177 311.1 L177.5 311.7 L178 312.4 L178.5 312.9 L179 313.5 L179.5 314.1 L180 314.6 L180.5 315.1 L181 315.6 L181.5 316.1 L182 316.5 L182.5 317 L183 317.4 L183.5 317.8 L184 318.3 L184.5 318.6 L185 319 L185.5 319.4 L186 319.7 L186.5 320.1 L187 320.4 L187.5 320.7 L188 321 L188.5 321.3 L189 321.6 L189.5 321.8 L190 322.1 L190.5 322.3 L191 322.6 L191.5 322.8 L192 323 L192.5 323.2 L193 323.4 L193.5 323.6 L194 323.8 L194.5 323.9 L195 324.1 L195.5 324.2 L196 324.4 L196.5 324.5 L197 324.7 L197.5 324.8 L198 324.9 L198.5 325 L199 325.1 L199.5 325.2 L200 325.3 L200.5 325.4 L201 325.5 L201.5 325.6 L202 325.7 L202.5 325.8 L203 325.8 L203.5 325.9 L204 326 L204.5 326 L205 326.1 L205.5 326.2 L206 326.2 L206.5 326.3 L207 326.3 L207.5 326.3 L208 326.4 L208.5 326.4 L209 326.5 L209.5 326.5 L210 326.5 L210.5 326.6 L211 326.6 L211.5 326.6 L212 326.6 L212.5 326.7 L213 326.7 L213.5 326.7 L214 326.7 L214.5 326.7 L215 326.8 L215.5 326.8 L216 326.8 L216.5 326.8 L217 326.8 L217.5 326.8 L218 326.8 L218.5 326.9 L219 326.9 L219.5 326.9 L220 326.9 L220.5 326.9 L221 326.9 L221.5 326.9 L222 326.9 L222.5 326.9 L223 326.9 L223.5 326.9 L224 326.9 L224.5 326.9 L225 326.9 L225.5 327 L226 327 L226.5 327 L227 327 L227.5 327 L228 327 L228.5 327 L229 327 L229.5 327 L230 327 L230.5 327 L231 327 L231.5 327 L232 327 L232.5 327 L233 327 L233.5 327 L234 327 L234.5 327 L235 327 L235.5 327 L236 327 L236.5 327 L237 327 L237.5 327 L238 327 L238.5 327 L239 327 L239.5 327 L240 327 L240.5 327 L241 327 L241.5 327 L242 327 L242.5 327 L243 327 L243.5 327 L244 327 L244.5 327 L245 327 L245.5 327 L246 327 L246.5 327 L246.5 327 L246 327 L245.5 327 L245 327 L244.5 327 L244 327 L243.5 327 L243 327 L242.5 327 L242 327 L241.5 327 L241 327 L240.5 327 L240 327 L239.5 327 L239 327 L238.5 327 L238 327 L237.5 327 L237 327 L236.5 327 L236 327 L235.5 327 L235 327 L234.5 327 L234 327 L233.5 327 L233 327 L232.5 327 L232 327 L231.5 327 L231 327 L230.5 327 L230 327 L229.5 327 L229 327 L228.5 327 L228 327 L227.5 327 L227 327 L226.5 327 L226 327 L225.5 327 L225 327 L224.5 327 L224 327 L223.5 327 L223 327 L222.5 327 L222 327 L221.5 327 L221 327 L220.5 327 L220 327 L219.5 327 L219 327 L218.5 327 L218 327 L217.5 327 L217 327 L216.5 327 L216 327 L215.5 327 L215 327 L214.5 327 L214 327 L213.5 327 L213 327 L212.5 327 L212 327 L211.5 327 L211 327 L210.5 327 L210 327 L209.5 327 L209 327 L208.5 327 L208 327 L207.5 327 L207 327 L206.5 327 L206 327 L205.5 327 L205 327 L204.5 327 L204 327 L203.5 327 L203 327 L202.5 327 L202 327 L201.5 327 L201 327 L200.5 327 L200 327 L199.5 327 L199 327 L198.5 327 L198 327 L197.5 327 L197 327 L196.5 327 L196 327 L195.5 327 L195 327 L194.5 327 L194 327 L193.5 327 L193 327 L192.5 327 L192 327 L191.5 327 L191 327 L190.5 327 L190 327 L189.5 327 L189 327 L188.5 327 L188 327 L187.5 327 L187 327 L186.5 327 L186 327 L185.5 327 L185 327 L184.5 327 L184 327 L183.5 327 L183 327 L182.5 327 L182 327 L181.5 327 L181 327 L180.5 327 L180 327 L179.5 327 L179 327 L178.5 327 L178 327 L177.5 327 L177 327 L176.5 327 L176 327 L175.5 327 L175 327 L174.5 327 L174 327 L173.5 327 L173 327 L172.5 327 L172 327 L171.5 327 L171 327 L170.5 327 L170 327 L169.5 327 L169 327 L168.5 327 L168 327 L167.5 327 L167 327 L166.5 327 L166 327 L165.5 327 L165 327 L164.5 327 L164 327 L163.5 327 L163 327 L162.5 327 L162 327 L161.5 327 L161 327 L160.5 327 L160 327 L159.5 327 L159 327 L158.5 327 L158 327 L157.5 327 L157 327 L156.5 327 L156 327 L155.5 327 L155 327 L154.5 327 L154 327 L153.5 327 L153 327 L152.5 327 L152 327 L151.5 327 L151 327 L150.5 327 L150 327 L149.5 327 L149 327 L148.5 327 L148 327 L147.5 327 L147 327 L146.5 327 L146 327 L145.5 327 L145 327 L144.5 327 L144 327 L143.5 327 L143 327 L142.5 327 L142 327 L141.5 327 L141 327 L140.5 327 L140 327 L139.5 327 L139 327 L138.5 327 L138 327 L137.5 327 L137 327 L136.5 327 L136 327 L135.5 327 L135 327 L134.5 327 L134 327 L133.5 327 L133 327 L132.5 327 L132 327 L131.5 327 L131 327 L130.5 327 L130 327 L129.5 327 L129 327 L128.5 327 L128 327 L127.5 327 L127 327 L126.5 327 L126 327 L125.5 327 L125 327 L124.5 327 L124 327 L123.5 327 L123 327 L122.5 327 L122 327 L121.5 327 L121 327 L120.5 327 L120 327 L119.5 327 L119 327 L118.5 327 L118 327 L117.5 327 L117 327 L116.5 327 L116 327 L115.5 327 L115 327 L114.5 327 L114 327 L113.5 327 L113 327 L112.5 327 L112 327 L111.5 327 L111 327 L110.5 327 L110 327 L109.5 327 L109 327 L108.5 327 L108 327 L107.5 327 L107 327 L106.5 327 L106 327 L105.5 327 L105 327 L104.5 327 L104 327 L103.5 327 L103 327 L102.5 327 L102 327 L101.5 327 L101 327 L100.5 327 L100 327 L99.5 327 L99 327 L98.5 327 L98 327 L97.5 327 L97 327 L96.5 327 L96 327 L95.5 327 L95 327 L94.5 327 L94 327 L93.5 327 L93 327 L92.5 327 L92 327 L91.5 327 L91 327 L90.5 327 L90 327 L89.5 327 L89 327 L88.5 327 L88 327 L87.5 327 L87 327 L86.5 327 L86 327 L85.5 327 L85 327 L84.5 327 L84 327 L83.5 327 L83 327 L82.5 327 L82 327 L81.5 327 L81 327 L80.5 327 L80 327 L79.5 327 L79 327 L78.5 327 L78 327 L77.5 327 L77 327 L76.5 327 L76 327 L75.5 327 L75 327 L74.5 327 L74 327 L73.5 327 L73 327 L72.5 327 L72 327 L71.5 327 L71 327 L70.5 327 L70 327 L69.5 327 L69 327 L68.5 327 L68 327 L67.5 327 L67 327 L66.5 327 L66 327 L65.5 327 L65 327 L64.5 327 L64 327 L63.5 327 L63 327 L62.5 327 L62 327 L61.5 327 L61 327 L60.5 327 L60 327 L59.5 327 L59 327 L58.5 327 L58 327 L57.5 327 L57 327 L56.5 327 L56 327 L55.5 327 L55 327 L54.5 327 L54 327 L53.5 327 L53 327 L52.5 327 L52 327 L51.5 327 L51 327 L50.5 327 L50 327 L49.5 327 L49 327 L48.5 327 L48 327 L47.5 327 L47 327 L46.5 327 L46 327 L45.5 327 L45 327 L44.5 327 L44 327 L43.5 327 L43 327 L42.5 327 L42 327 L41.5 327 L41 327 L40.5 327 L40 327 L39.5 327 L39 327 L38.5 327Z" fill="#fdb4d8"/>
<path d="M38.5 327 L39 327 L39.5 327 L40 327 L40.5 327 L41 327 L41.5 327 L42 327 L42.5 327 L43 327 L43.5 327 L44 327 L44.5 327 L45 327 L45.5 327 L46 327 L46.5 327 L47 327 L47.5 327 L48 327 L48.5 327 L49 327 L49.5 327 L50 327 L50.5 327 L51 327 L51.5 327 L52 327 L52.5 327 L53 327 L53.5 327 L54 327 L54.5 327 L55 327 L55.5 327 L56 327 L56.5 327 L57 327 L57.5 327 L58 327 L58.5 327 L59 327 L59.5 327 L60 327 L60.5 327 L61 327 L61.5 327 L62 327 L62.5 327 L63 327 L63.5 327 L64 327 L64.5 327 L65 327 L65.5 327 L66 327 L66.5 327 L67 327 L67.5 327 L68 327 L68.5 327 L69 327 L69.5 327 L70 327 L70.5 327 L71 327 L71.5 327 L72 327 L72.5 327 L73 327 L73.5 327 L74 327 L74.5 327 L75 327 L75.5 327 L76 327 L76.5 327 L77 327 L77.5 327 L78 327 L78.5 327 L79 327 L79.5 327 L80 327 L80.5 327 L81 327 L81.5 327 L82 327 L82.5 327 L83 327 L83.5 327 L84 327 L84.5 327 L85 327 L85.5 327 L86 327 L86.5 327 L87 327 L87.5 327 L88 326.9 L88.5 326.9 L89 326.9 L89.5 326.9 L90 326.9 L90.5 326.9 L91 326.9 L91.5 326.9 L92 326.9 L92.5 326.9 L93 326.9 L93.5 326.9 L94 326.9 L94.5 326.8 L95 326.8 L95.5 326.8 L96 326.8 L96.5 326.8 L97 326.8 L97.5 326.8 L98 326.7 L98.5 326.7 L99 326.7 L99.5 326.7 L100 326.6 L100.5 326.6 L101 326.6 L101.5 326.5 L102 326.5 L102.5 326.5 L103 326.4 L103.5 326.4 L104 326.4 L104.5 326.3 L105 326.3 L105.5 326.2 L106 326.1 L106.5 326.1 L107 326 L107.5 325.9 L108 325.9 L108.5 325.8 L109 325.7 L109.5 325.6 L110 325.5 L110.5 325.4 L111 325.3 L111.5 325.2 L112 325.1 L112.5 325 L113 324.9 L113.5 324.7 L114 324.6 L114.5 324.4 L115 324.3 L115.5 324.1 L116 323.9 L116.5 323.8 L117 323.6 L117.5 323.4 L118 323.1 L118.5 322.9 L119 322.7 L119.5 322.5 L120 322.2 L120.5 321.9 L121 321.7 L121.5 321.4 L122 321.1 L122.5 320.7 L123 320.4 L123.5 320.1 L124 319.7 L124.5 319.3 L125 319 L125.5 318.6 L126 318.1 L126.5 317.7 L127 317.3 L127.5 316.8 L128 316.3 L128.5 315.8 L129 315.3 L129.5 314.8 L130 314.2 L130.5 313.7 L131 313.1 L131.5 312.5 L132 311.9 L132.5 311.2 L133 310.6 L133.5 309.9 L134 309.2 L134.5 308.5 L135 307.8 L135.5 307.1 L136 306.3 L136.5 305.5 L137 304.7 L137.5 303.9 L138 303.1 L138.5 302.2 L139 301.4 L139.5 300.5 L140 299.6 L140.5 298.7 L141 297.8 L141.5 296.8 L142 295.9 L142.5 294.9 L143 293.9 L143.5 293 L144 292 L144.5 290.9 L145 289.9 L145.5 288.9 L146 287.9 L146.5 286.8 L147 285.8 L147.5 284.7 L148 283.7 L148.5 282.6 L149 281.5 L149.5 280.5 L150 279.4 L150.5 278.4 L151 277.3 L151.5 276.2 L152 275.2 L152.5 274.2 L153 273.1 L153.5 272.1 L154 271.1 L154.5 270.1 L155 269.1 L155.5 268.1 L156 267.2 L156.5 266.2 L157 265.3 L157.5 264.4 L158 263.5 L158.5 262.6 L159 261.8 L159.5 261 L160 260.2 L160.5 259.4 L161 258.7 L161.5 257.9 L162 257.3 L162.5 256.6 L163 256 L163.5 255.4 L164 254.9 L164.5 254.3 L165 253.9 L165.5 253.4 L166 253 L166.5 252.6 L167 252.3 L167.5 252 L168 251.7 L168.5 251.5 L169 251.3 L169.5 251.2 L170 251.1 L170.5 251 L171 251 L171.5 251 L172 251.1 L172.5 251.2 L173 251.3 L173.5 251.5 L174 251.7 L174.5 252 L175 252.3 L175.5 252.6 L176 253 L176.5 253.4 L177 253.9 L177.5 254.3 L178 254.9 L178.5 255.4 L179 256 L179.5 256.6 L180 257.3 L180.5 257.9 L181 258.7 L181.5 259.4 L182 260.2 L182.5 261 L183 261.8 L183.5 262.6 L184 263.5 L184.5 264.4 L185 265.3 L185.5 266.2 L186 267.2 L186.5 268.1 L187 269.1 L187.5 270.1 L188 271.1 L188.5 272.1 L189 273.1 L189.5 274.2 L190 275.2 L190.5 276.2 L191 277.3 L191.5 278.4 L192 279.4 L192.5 280.5 L193 281.5 L193.5 282.6 L194 283.7 L194.5 284.7 L195 285.8 L195.5 286.8 L196 287.9 L196.5 288.9 L197 289.9 L197.5 290.9 L198 292 L198.5 293 L199 293.9 L199.5 294.9 L200 295.9 L200.5 296.8 L201 297.8 L201.5 298.7 L202 299.6 L202.5 300.5 L203 301.4 L203.5 302.2 L204 303.1 L204.5 303.9 L205 304.7 L205.5 305.5 L206 306.3 L206.5 307.1 L207 307.8 L207.5 308.5 L208 309.2 L208.5 309.9 L209 310.6 L209.5 311.2 L210 311.9 L210.5 312.5 L211 313.1 L211.5 313.7 L212 314.2 L212.5 314.8 L213 315.3 L213.5 315.8 L214 316.3 L214.5 316.8 L215 317.3 L215.5 317.7 L216 318.1 L216.5 318.6 L217 319 L217.5 319.3 L218 319.7 L218.5 320.1 L219 320.4 L219.5 320.7 L220 321.1 L220.5 321.4 L221 321.7 L221.5 321.9 L222 322.2 L222.5 322.5 L223 322.7 L223.5 322.9 L224 323.1 L224.5 323.4 L225 323.6 L225.5 323.8 L226 323.9 L226.5 324.1 L227 324.3 L227.5 324.4 L228 324.6 L228.5 324.7 L229 324.9 L229.5 325 L230 325.1 L230.5 325.2 L231 325.3 L231.5 325.4 L232 325.5 L232.5 325.6 L233 325.7 L233.5 325.8 L234 325.9 L234.5 325.9 L235 326 L235.5 326.1 L236 326.1 L236.5 326.2 L237 326.3 L237.5 326.3 L238 326.4 L238.5 326.4 L239 326.4 L239.5 326.5 L240 326.5 L240.5 326.5 L241 326.6 L241.5 326.6 L242 326.6 L242.5 326.7 L243 326.7 L243.5 326.7 L244 326.7 L244.5 326.8 L245 326.8 L245.5 326.8 L246 326.8 L246.5 326.8 L246.5 327 L246 327 L245.5 327 L245 327 L244.5 327 L244 327 L243.5 327 L243 327 L242.5 327 L242 327 L241.5 327 L241 327 L240.5 327 L240 327 L239.5 327 L239 327 L238.5 327 L238 327 L237.5 327 L237 327 L236.5 327 L236 327 L235.5 327 L235 327 L234.5 327 L234 327 L233.5 327 L233 327 L232.5 327 L232 327 L231.5 327 L231 327 L230.5 327 L230 327 L229.5 327 L229 327 L228.5 327 L228 327 L227.5 327 L227 327 L226.5 327 L226 327 L225.5 327 L225 327 L224.5 327 L224 327 L223.5 327 L223 327 L222.5 327 L222 327 L221.5 327 L221 327 L220.5 327 L220 327 L219.5 327 L219 327 L218.5 327 L218 327 L217.5 327 L217 327 L216.5 327 L216 327 L215.5 327 L215 327 L214.5 327 L214 327 L213.5 327 L213 327 L212.5 327 L212 327 L211.5 327 L211 327 L210.5 327 L210 327 L209.5 327 L209 327 L208.5 327 L208 327 L207.5 327 L207 327 L206.5 327 L206 327 L205.5 327 L205 327 L204.5 327 L204 327 L203.5 327 L203 327 L202.5 327 L202 327 L201.5 327 L201 327 L200.5 327 L200 327 L199.5 327 L199 327 L198.5 327 L198 327 L197.5 327 L197 327 L196.5 327 L196 327 L195.5 327 L195 327 L194.5 327 L194 327 L193.5 327 L193 327 L192.5 327 L192 327 L191.5 327 L191 327 L190.5 327 L190 327 L189.5 327 L189 327 L188.5 327 L188 327 L187.5 327 L187 327 L186.5 327 L186 327 L185.5 327 L185 327 L184.5 327 L184 327 L183.5 327 L183 327 L182.5 327 L182 327 L181.5 327 L181 327 L180.5 327 L180 327 L179.5 327 L179 327 L178.5 327 L178 327 L177.5 327 L177 327 L176.5 327 L176 327 L175.5 327 L175 327 L174.5 327 L174 327 L173.5 327 L173 327 L172.5 327 L172 327 L171.5 327 L171 327 L170.5 327 L170 327 L169.5 327 L169 327 L168.5 327 L168 327 L167.5 327 L167 327 L166.5 327 L166 327 L165.5 327 L165 327 L164.5 327 L164 327 L163.5 327 L163 327 L162.5 327 L162 327 L161.5 327 L161 327 L160.5 327 L160 327 L159.5 327 L159 327 L158.5 327 L158 327 L157.5 327 L157 327 L156.5 327 L156 327 L155.5 327 L155 327 L154.5 327 L154 327 L153.5 327 L153 327 L152.5 327 L152 327 L151.5 327 L151 327 L150.5 327 L150 327 L149.5 327 L149 327 L148.5 327 L148 327 L147.5 327 L147 327 L146.5 327 L146 327 L145.5 327 L145 327 L144.5 327 L144 327 L143.5 327 L143 327 L142.5 327 L142 327 L141.5 327 L141 327 L140.5 327 L140 327 L139.5 327 L139 327 L138.5 327 L138 327 L137.5 327 L137 327 L136.5 327 L136 327 L135.5 327 L135 327 L134.5 327 L134 327 L133.5 327 L133 327 L132.5 327 L132 327 L131.5 327 L131 327 L130.5 327 L130 327 L129.5 327 L129 327 L128.5 327 L128 327 L127.5 327 L127 327 L126.5 327 L126 327 L125.5 327 L125 327 L124.5 327 L124 327 L123.5 327 L123 327 L122.5 327 L122 327 L121.5 327 L121 327 L120.5 327 L120 327 L119.5 327 L119 327 L118.5 327 L118 327 L117.5 327 L117 327 L116.5 327 L116 327 L115.5 327 L115 327 L114.5 327 L114 327 L113.5 327 L113 327 L112.5 327 L112 327 L111.5 327 L111 327 L110.5 327 L110 327 L109.5 327 L109 327 L108.5 327 L108 327 L107.5 327 L107 327 L106.5 327 L106 327 L105.5 327 L105 327 L104.5 327 L104 327 L103.5 327 L103 327 L102.5 327 L102 327 L101.5 327 L101 327 L100.5 327 L100 327 L99.5 327 L99 327 L98.5 327 L98 327 L97.5 327 L97 327 L96.5 327 L96 327 L95.5 327 L95 327 L94.5 327 L94 327 L93.5 327 L93 327 L92.5 327 L92 327 L91.5 327 L91 327 L90.5 327 L90 327 L89.5 327 L89 327 L88.5 327 L88 327 L87.5 327 L87 327 L86.5 327 L86 327 L85.5 327 L85 327 L84.5 327 L84 327 L83.5 327 L83 327 L82.5 327 L82 327 L81.5 327 L81 327 L80.5 327 L80 327 L79.5 327 L79 327 L78.5 327 L78 327 L77.5 327 L77 327 L76.5 327 L76 327 L75.5 327 L75 327 L74.5 327 L74 327 L73.5 327 L73 327 L72.5 327 L72 327 L71.5 327 L71 327 L70.5 327 L70 327 L69.5 327 L69 327 L68.5 327 L68 327 L67.5 327 L67 327 L66.5 327 L66 327 L65.5 327 L65 327 L64.5 327 L64 327 L63.5 327 L63 327 L62.5 327 L62 327 L61.5 327 L61 327 L60.5 327 L60 327 L59.5 327 L59 327 L58.5 327 L58 327 L57.5 327 L57 327 L56.5 327 L56 327 L55.5 327 L55 327 L54.5 327 L54 327 L53.5 327 L53 327 L52.5 327 L52 327 L51.5 327 L51 327 L50.5 327 L50 327 L49.5 327 L49 327 L48.5 327 L48 327 L47.5 327 L47 327 L46.5 327 L46 327 L45.5 327 L45 327 L44.5 327 L44 327 L43.5 327 L43 327 L42.5 327 L42 327 L41.5 327 L41 327 L40.5 327 L40 327 L39.5 327 L39 327 L38.5 327Z" fill="#40a59e"/>
<path d="M38.5 327 L39 327 L39.5 327 L40 327 L40.5 327 L41 327 L41.5 327 L42 327 L42.5 327 L43 327 L43.5 327 L44 327 L44.5 327 L45 327 L45.5 327 L46 327 L46.5 327 L47 327 L47.5 327 L48 327 L48.5 327 L49 327 L49.5 327 L50 327 L50.5 327 L51 327 L51.5 327 L52 327 L52.5 327 L53 327 L53.5 327 L54 327 L54.5 327 L55 327 L55.5 327 L56 327 L56.5 327 L57 327 L57.5 327 L58 327 L58.5 327 L59 327 L59.5 327 L60 327 L60.5 327 L61 327 L61.5 327 L62 327 L62.5 327 L63 327 L63.5 327 L64 327 L64.5 327 L65 327 L65.5 327 L66 327 L66.5 327 L67 327 L67.5 327 L68 327 L68.5 327 L69 327 L69.5 327 L70 327 L70.5 327 L71 327 L71.5 327 L72 327 L72.5 327 L73 327 L73.5 327 L74 327 L74.5 327 L75 327 L75.5 327 L76 327 L76.5 327 L77 327 L77.5 327 L78 327 L78.5 327 L79 327 L79.5 327 L80 327 L80.5 327 L81 327 L81.5 327 L82 327 L82.5 327 L83 327 L83.5 327 L84 327 L84.5 327 L85 327 L85.5 327 L86 327 L86.5 327 L87 327 L87.5 327 L88 326.9 L88.5 326.9 L89 326.9 L89.5 326.9 L90 326.9 L90.5 326.9 L91 326.9 L91.5 326.9 L92 326.9 L92.5 326.9 L93 326.9 L93.5 326.9 L94 326.9 L94.5 326.8 L95 326.8 L95.5 326.8 L96 326.8 L96.5 326.8 L97 326.8 L97.5 326.8 L98 326.7 L98.5 326.7 L99 326.7 L99.5 326.7 L100 326.6 L100.5 326.6 L101 326.6 L101.5 326.5 L102 326.5 L102.5 326.5 L103 326.4 L103.5 326.4 L104 326.4 L104.5 326.3 L105 326.3 L105.5 326.2 L106 326.1 L106.5 326.1 L107 326 L107.5 325.9 L108 325.9 L108.5 325.8 L109 325.7 L109.5 325.6 L110 325.5 L110.5 325.4 L111 325.3 L111.5 325.2 L112 325.1 L112.5 325 L113 324.9 L113.5 324.7 L114 324.6 L114.5 324.4 L115 324.3 L115.5 324.1 L116 323.9 L116.5 323.8 L117 323.6 L117.5 323.4 L118 323.1 L118.5 322.9 L119 322.7 L119.5 322.5 L120 322.2 L120.5 321.9 L121 321.7 L121.5 321.4 L122 321.1 L122.5 320.7 L123 320.4 L123.5 320.1 L124 319.7 L124.5 319.3 L125 319 L125.5 318.6 L126 318.1 L126.5 317.7 L127 317.3 L127.5 316.8 L128 316.3 L128.5 315.8 L129 315.3 L129.5 314.8 L130 314.2 L130.5 313.7 L131 313.1 L131.5 312.5 L132 311.9 L132.5 311.2 L133 310.6 L133.5 309.9 L134 309.2 L134.5 308.5 L135 307.8 L135.5 307.1 L136 306.3 L136.5 305.5 L137 304.7 L137.5 303.9 L138 303.1 L138.5 302.2 L139 301.4 L139.5 300.5 L140 299.6 L140.5 298.7 L141 297.8 L141.5 296.8 L142 295.9 L142.5 294.9 L143 293.9 L143.5 293 L144 292 L144.5 290.9 L145 289.9 L145.5 288.9 L146 287.9 L146.5 286.8 L147 285.8 L147.5 284.7 L148 283.7 L148.5 282.6 L149 281.5 L149.5 280.5 L150 279.4 L150.5 278.4 L151 277.3 L151.5 276.2 L152 275.2 L152.5 274.2 L153 273.1 L153.5 272.1 L154 271.1 L154.5 270.1 L155 269.1 L155.5 268.1 L156 268.7 L156.5 270 L157 271.3 L157.5 272.6 L158 273.8 L158.5 275.1 L159 276.4 L159.5 277.6 L160 278.9 L160.5 280.1 L161 281.3 L161.5 282.5 L162 283.7 L162.5 284.9 L163 286 L163.5 287.2 L164 288.3 L164.5 289.4 L165 290.5 L165.5 291.6 L166 292.6 L166.5 293.7 L167 294.7 L167.5 295.7 L168 296.7 L168.5 297.7 L169 298.6 L169.5 299.5 L170 300.4 L170.5 301.3 L171 302.2 L171.5 303.1 L172 303.9 L172.5 304.7 L173 305.5 L173.5 306.3 L174 307 L174.5 307.7 L175 308.5 L175.5 309.2 L176 309.8 L176.5 310.5 L177 311.1 L177.5 311.7 L178 312.4 L178.5 312.9 L179 313.5 L179.5 314.1 L180 314.6 L180.5 315.1 L181 315.6 L181.5 316.1 L182 316.5 L182.5 317 L183 317.4 L183.5 317.8 L184 318.3 L184.5 318.6 L185 319 L185.5 319.4 L186 319.7 L186.5 320.1 L187 320.4 L187.5 320.7 L188 321 L188.5 321.3 L189 321.6 L189.5 321.8 L190 322.1 L190.5 322.3 L191 322.6 L191.5 322.8 L192 323 L192.5 323.2 L193 323.4 L193.5 323.6 L194 323.8 L194.5 323.9 L195 324.1 L195.5 324.2 L196 324.4 L196.5 324.5 L197 324.7 L197.5 324.8 L198 324.9 L198.5 325 L199 325.1 L199.5 325.2 L200 325.3 L200.5 325.4 L201 325.5 L201.5 325.6 L202 325.7 L202.5 325.8 L203 325.8 L203.5 325.9 L204 326 L204.5 326 L205 326.1 L205.5 326.2 L206 326.2 L206.5 326.3 L207 326.3 L207.5 326.3 L208 326.4 L208.5 326.4 L209 326.5 L209.5 326.5 L210 326.5 L210.5 326.6 L211 326.6 L211.5 326.6 L212 326.6 L212.5 326.7 L213 326.7 L213.5 326.7 L214 326.7 L214.5 326.7 L215 326.8 L215.5 326.8 L216 326.8 L216.5 326.8 L217 326.8 L217.5 326.8 L218 326.8 L218.5 326.9 L219 326.9 L219.5 326.9 L220 326.9 L220.5 326.9 L221 326.9 L221.5 326.9 L222 326.9 L222.5 326.9 L223 326.9 L223.5 326.9 L224 326.9 L224.5 326.9 L225 326.9 L225.5 327 L226 327 L226.5 327 L227 327 L227.5 327 L228 327 L228.5 327 L229 327 L229.5 327 L230 327 L230.5 327 L231 327 L231.5 327 L232 327 L232.5 327 L233 327 L233.5 327 L234 327 L234.5 327 L235 327 L235.5 327 L236 327 L236.5 327 L237 327 L237.5 327 L238 327 L238.5 327 L239 327 L239.5 327 L240 327 L240.5 327 L241 327 L241.5 327 L242 327 L242.5 327 L243 327 L243.5 327 L244 327 L244.5 327 L245 327 L245.5 327 L246 327 L246.5 327 L246.5 327 L246 327 L245.5 327 L245 327 L244.5 327 L244 327 L243.5 327 L243 327 L242.5 327 L242 327 L241.5 327 L241 327 L240.5 327 L240 327 L239.5 327 L239 327 L238.5 327 L238 327 L237.5 327 L237 327 L236.5 327 L236 327 L235.5 327 L235 327 L234.5 327 L234 327 L233.5 327 L233 327 L232.5 327 L232 327 L231.5 327 L231 327 L230.5 327 L230 327 L229.5 327 L229 327 L228.5 327 L228 327 L227.5 327 L227 327 L226.5 327 L226 327 L225.5 327 L225 327 L224.5 327 L224 327 L223.5 327 L223 327 L222.5 327 L222 327 L221.5 327 L221 327 L220.5 327 L220 327 L219.5 327 L219 327 L218.5 327 L218 327 L217.5 327 L217 327 L216.5 327 L216 327 L215.5 327 L215 327 L214.5 327 L214 327 L213.5 327 L213 327 L212.5 327 L212 327 L211.5 327 L211 327 L210.5 327 L210 327 L209.5 327 L209 327 L208.5 327 L208 327 L207.5 327 L207 327 L206.5 327 L206 327 L205.5 327 L205 327 L204.5 327 L204 327 L203.5 327 L203 327 L202.5 327 L202 327 L201.5 327 L201 327 L200.5 327 L200 327 L199.5 327 L199 327 L198.5 327 L198 327 L197.5 327 L197 327 L196.5 327 L196 327 L195.5 327 L195 327 L194.5 327 L194 327 L193.5 327 L193 327 L192.5 327 L192 327 L191.5 327 L191 327 L190.5 327 L190 327 L189.5 327 L189 327 L188.5 327 L188 327 L187.5 327 L187 327 L186.5 327 L186 327 L185.5 327 L185 327 L184.5 327 L184 327 L183.5 327 L183 327 L182.5 327 L182 327 L181.5 327 L181 327 L180.5 327 L180 327 L179.5 327 L179 327 L178.5 327 L178 327 L177.5 327 L177 327 L176.5 327 L176 327 L175.5 327 L175 327 L174.5 327 L174 327 L173.5 327 L173 327 L172.5 327 L172 327 L171.5 327 L171 327 L170.5 327 L170 327 L169.5 327 L169 327 L168.5 327 L168 327 L167.5 327 L167 327 L166.5 327 L166 327 L165.5 327 L165 327 L164.5 327 L164 327 L163.5 327 L163 327 L162.5 327 L162 327 L161.5 327 L161 327 L160.5 327 L160 327 L159.5 327 L159 327 L158.5 327 L158 327 L157.5 327 L157 327 L156.5 327 L156 327 L155.5 327 L155 327 L154.5 327 L154 327 L153.5 327 L153 327 L152.5 327 L152 327 L151.5 327 L151 327 L150.5 327 L150 327 L149.5 327 L149 327 L148.5 327 L148 327 L147.5 327 L147 327 L146.5 327 L146 327 L145.5 327 L145 327 L144.5 327 L144 327 L143.5 327 L143 327 L142.5 327 L142 327 L141.5 327 L141 327 L140.5 327 L140 327 L139.5 327 L139 327 L138.5 327 L138 327 L137.5 327 L137 327 L136.5 327 L136 327 L135.5 327 L135 327 L134.5 327 L134 327 L133.5 327 L133 327 L132.5 327 L132 327 L131.5 327 L131 327 L130.5 327 L130 327 L129.5 327 L129 327 L128.5 327 L128 327 L127.5 327 L127 327 L126.5 327 L126 327 L125.5 327 L125 327 L124.5 327 L124 327 L123.5 327 L123 327 L122.5 327 L122 327 L121.5 327 L121 327 L120.5 327 L120 327 L119.5 327 L119 327 L118.5 327 L118 327 L117.5 327 L117 327 L116.5 327 L116 327 L115.5 327 L115 327 L114.5 327 L114 327 L113.5 327 L113 327 L112.5 327 L112 327 L111.5 327 L111 327 L110.5 327 L110 327 L109.5 327 L109 327 L108.5 327 L108 327 L107.5 327 L107 327 L106.5 327 L106 327 L105.5 327 L105 327 L104.5 327 L104 327 L103.5 327 L103 327 L102.5 327 L102 327 L101.5 327 L101 327 L100.5 327 L100 327 L99.5 327 L99 327 L98.5 327 L98 327 L97.5 327 L97 327 L96.5 327 L96 327 L95.5 327 L95 327 L94.5 327 L94 327 L93.5 327 L93 327 L92.5 327 L92 327 L91.5 327 L91 327 L90.5 327 L90 327 L89.5 327 L89 327 L88.5 327 L88 327 L87.5 327 L87 327 L86.5 327 L86 327 L85.5 327 L85 327 L84.5 327 L84 327 L83.5 327 L83 327 L82.5 327 L82 327 L81.5 327 L81 327 L80.5 327 L80 327 L79.5 327 L79 327 L78.5 327 L78 327 L77.5 327 L77 327 L76.5 327 L76 327 L75.5 327 L75 327 L74.5 327 L74 327 L73.5 327 L73 327 L72.5 327 L72 327 L71.5 327 L71 327 L70.5 327 L70 327 L69.5 327 L69 327 L68.5 327 L68 327 L67.5 327 L67 327 L66.5 327 L66 327 L65.5 327 L65 327 L64.5 327 L64 327 L63.5 327 L63 327 L62.5 327 L62 327 L61.5 327 L61 327 L60.5 327 L60 327 L59.5 327 L59 327 L58.5 327 L58 327 L57.5 327 L57 327 L56.5 327 L56 327 L55.5 327 L55 327 L54.5 327 L54 327 L53.5 327 L53 327 L52.5 327 L52 327 L51.5 327 L51 327 L50.5 327 L50 327 L49.5 327 L49 327 L48.5 327 L48 327 L47.5 327 L47 327 L46.5 327 L46 327 L45.5 327 L45 327 L44.5 327 L44 327 L43.5 327 L43 327 L42.5 327 L42 327 L41.5 327 L41 327 L40.5 327 L40 327 L39.5 327 L39 327 L38.5 327Z" fill="#2c8085"/>
<path d="M50.5 326.3 L51 326.3 L51.5 326.3 L52 326.2 L52.5 326.2 L53 326.1 L53.5 326 L54 326 L54.5 325.9 L55 325.8 L55.5 325.8 L56 325.7 L56.5 325.6 L57 325.5 L57.5 325.4 L58 325.3 L58.5 325.2 L59 325.1 L59.5 325 L60 324.9 L60.5 324.8 L61 324.7 L61.5 324.5 L62 324.4 L62.5 324.2 L63 324.1 L63.5 323.9 L64 323.8 L64.5 323.6 L65 323.4 L65.5 323.2 L66 323 L66.5 322.8 L67 322.6 L67.5 322.3 L68 322.1 L68.5 321.8 L69 321.6 L69.5 321.3 L70 321 L70.5 320.7 L71 320.4 L71.5 320.1 L72 319.7 L72.5 319.4 L73 319 L73.5 318.6 L74 318.3 L74.5 317.8 L75 317.4 L75.5 317 L76 316.5 L76.5 316.1 L77 315.6 L77.5 315.1 L78 314.6 L78.5 314.1 L79 313.5 L79.5 312.9 L80 312.4 L80.5 311.7 L81 311.1 L81.5 310.5 L82 309.8 L82.5 309.2 L83 308.5 L83.5 307.7 L84 307 L84.5 306.3 L85 305.5 L85.5 304.7 L86 303.9 L86.5 303.1 L87 302.2 L87.5 301.3 L88 300.4 L88.5 299.5 L89 298.6 L89.5 297.7 L90 296.7 L90.5 295.7 L91 294.7 L91.5 293.7 L92 292.6 L92.5 291.6 L93 290.5 L93.5 289.4 L94 288.3 L94.5 287.2 L95 286 L95.5 284.9 L96 283.7 L96.5 282.5 L97 281.3 L97.5 280.1 L98 278.9 L98.5 277.6 L99 276.4 L99.5 275.1 L100 273.8 L100.5 272.6 L101 271.3 L101.5 270 L102 268.7 L102.5 267.4 L103 266.1 L103.5 264.8 L104 263.5 L104.5 262.1 L105 260.8 L105.5 259.5 L106 258.2 L106.5 256.9 L107 255.6 L107.5 254.3 L108 253 L108.5 251.7 L109 250.5 L109.5 249.2 L110 248 L110.5 246.7 L111 245.5 L111.5 244.3 L112 243.1 L112.5 242 L113 240.8 L113.5 239.7 L114 238.6 L114.5 237.5 L115 236.4 L115.5 235.4 L116 234.4 L116.5 233.4 L117 232.4 L117.5 231.5 L118 230.6 L118.5 229.8 L119 228.9 L119.5 228.2 L120 227.4 L120.5 226.7 L121 226 L121.5 225.3 L122 224.7 L122.5 224.2 L123 223.6 L123.5 223.1 L124 222.7 L124.5 222.3 L125 221.9 L125.5 221.6 L126 221.3 L126.5 221 L127 220.9 L127.5 220.7 L128 220.6 L128.5 220.5 L129 220.5 L129.5 220.5 L130 220.6 L130.5 220.7 L131 220.9 L131.5 221 L132 221.3 L132.5 221.6 L133 221.9 L133.5 222.3 L134 222.7 L134.5 223.1 L135 223.6 L135.5 224.2 L136 224.7 L136.5 225.3 L137 226 L137.5 226.7 L138 227.4 L138.5 228.2 L139 228.9 L139.5 229.8 L140 230.6 L140.5 231.5 L141 232.4 L141.5 233.4 L142 234.4 L142.5 235.4 L143 236.4 L143.5 237.5 L144 238.6 L144.5 239.7 L145 240.8 L145.5 242 L146 243.1 L146.5 244.3 L147 245.5 L147.5 246.7 L148 248 L148.5 249.2 L149 250.5 L149.5 251.7 L150 253 L150.5 254.3 L151 255.6 L151.5 256.9 L152 258.2 L152.5 259.5 L153 260.8 L153.5 262.1 L154 263.5 L154.5 264.8 L155 266.1 L155.5 267.4 L156 268.7 L156.5 270 L157 271.3" fill="none" stroke="#1a1f6e" stroke-width="3.3"/>
<g fill="#fff"><rect x="49.8" y="325.6" width="1.5" height="1.5"/><rect x="52.8" y="325.3" width="1.5" height="1.5"/><rect x="55.8" y="324.9" width="1.5" height="1.5"/><rect x="58.8" y="324.3" width="1.5" height="1.5"/><rect x="61.8" y="323.5" width="1.5" height="1.5"/><rect x="64.8" y="322.4" width="1.5" height="1.5"/><rect x="67.2" y="321.3" width="1.5" height="1.5"/><rect x="69.8" y="319.9" width="1.5" height="1.5"/><rect x="72.2" y="318.3" width="1.5" height="1.5"/><rect x="74.8" y="316.2" width="1.5" height="1.5"/><rect x="76.8" y="314.3" width="1.5" height="1.5"/><rect x="78.8" y="312.2" width="1.5" height="1.5"/><rect x="80.8" y="309.7" width="1.5" height="1.5"/><rect x="82.8" y="307" width="1.5" height="1.5"/><rect x="84.2" y="304.7" width="1.5" height="1.5"/><rect x="85.8" y="302.3" width="1.5" height="1.5"/><rect x="87.2" y="299.7" width="1.5" height="1.5"/><rect x="88.8" y="296.9" width="1.5" height="1.5"/><rect x="90.2" y="293.9" width="1.5" height="1.5"/><rect x="91.8" y="290.8" width="1.5" height="1.5"/><rect x="93.2" y="287.5" width="1.5" height="1.5"/><rect x="94.8" y="284.1" width="1.5" height="1.5"/><rect x="96.2" y="280.6" width="1.5" height="1.5"/><rect x="97.8" y="276.9" width="1.5" height="1.5"/><rect x="98.8" y="274.4" width="1.5" height="1.5"/><rect x="99.8" y="271.8" width="1.5" height="1.5"/><rect x="100.8" y="269.2" width="1.5" height="1.5"/><rect x="101.8" y="266.6" width="1.5" height="1.5"/><rect x="102.8" y="264" width="1.5" height="1.5"/><rect x="103.8" y="261.4" width="1.5" height="1.5"/><rect x="104.8" y="258.8" width="1.5" height="1.5"/><rect x="105.8" y="256.2" width="1.5" height="1.5"/><rect x="106.8" y="253.6" width="1.5" height="1.5"/><rect x="107.8" y="251" width="1.5" height="1.5"/><rect x="108.8" y="248.5" width="1.5" height="1.5"/><rect x="110.2" y="244.8" width="1.5" height="1.5"/><rect x="111.8" y="241.2" width="1.5" height="1.5"/><rect x="113.2" y="237.8" width="1.5" height="1.5"/><rect x="114.8" y="234.6" width="1.5" height="1.5"/><rect x="116.2" y="231.7" width="1.5" height="1.5"/><rect x="117.8" y="229" width="1.5" height="1.5"/><rect x="119.2" y="226.6" width="1.5" height="1.5"/><rect x="121.2" y="224" width="1.5" height="1.5"/><rect x="123.2" y="221.9" width="1.5" height="1.5"/><rect x="125.8" y="220.3" width="1.5" height="1.5"/><rect x="128.8" y="219.8" width="1.5" height="1.5"/><rect x="131.8" y="220.8" width="1.5" height="1.5"/><rect x="134.2" y="222.9" width="1.5" height="1.5"/><rect x="136.2" y="225.2" width="1.5" height="1.5"/><rect x="138.2" y="228.2" width="1.5" height="1.5"/><rect x="139.8" y="230.8" width="1.5" height="1.5"/><rect x="141.2" y="233.6" width="1.5" height="1.5"/><rect x="142.8" y="236.7" width="1.5" height="1.5"/><rect x="144.2" y="240.1" width="1.5" height="1.5"/><rect x="145.8" y="243.6" width="1.5" height="1.5"/><rect x="147.2" y="247.2" width="1.5" height="1.5"/><rect x="148.8" y="251" width="1.5" height="1.5"/><rect x="149.8" y="253.6" width="1.5" height="1.5"/><rect x="150.8" y="256.2" width="1.5" height="1.5"/><rect x="151.8" y="258.8" width="1.5" height="1.5"/><rect x="152.8" y="261.4" width="1.5" height="1.5"/><rect x="153.8" y="264" width="1.5" height="1.5"/><rect x="154.8" y="266.6" width="1.5" height="1.5"/><rect x="155.8" y="269.2" width="1.5" height="1.5"/></g>
<path d="M156 268.7 L156.5 270 L157 271.3 L157.5 272.6 L158 273.8 L158.5 275.1 L159 276.4 L159.5 277.6 L160 278.9 L160.5 280.1 L161 281.3 L161.5 282.5 L162 283.7 L162.5 284.9 L163 286 L163.5 287.2 L164 288.3 L164.5 289.4 L165 290.5 L165.5 291.6 L166 292.6 L166.5 293.7 L167 294.7 L167.5 295.7 L168 296.7 L168.5 297.7 L169 298.6 L169.5 299.5 L170 300.4 L170.5 301.3 L171 302.2 L171.5 303.1 L172 303.9 L172.5 304.7 L173 305.5 L173.5 306.3 L174 307 L174.5 307.7 L175 308.5 L175.5 309.2 L176 309.8 L176.5 310.5 L177 311.1 L177.5 311.7 L178 312.4 L178.5 312.9 L179 313.5 L179.5 314.1 L180 314.6 L180.5 315.1 L181 315.6 L181.5 316.1 L182 316.5 L182.5 317 L183 317.4 L183.5 317.8 L184 318.3 L184.5 318.6 L185 319 L185.5 319.4 L186 319.7 L186.5 320.1 L187 320.4 L187.5 320.7 L188 321 L188.5 321.3 L189 321.6 L189.5 321.8 L190 322.1 L190.5 322.3 L191 322.6 L191.5 322.8 L192 323 L192.5 323.2 L193 323.4 L193.5 323.6 L194 323.8 L194.5 323.9 L195 324.1 L195.5 324.2 L196 324.4 L196.5 324.5 L197 324.7 L197.5 324.8 L198 324.9 L198.5 325 L199 325.1 L199.5 325.2 L200 325.3 L200.5 325.4 L201 325.5 L201.5 325.6 L202 325.7 L202.5 325.8 L203 325.8 L203.5 325.9 L204 326 L204.5 326 L205 326.1 L205.5 326.2 L206 326.2 L206.5 326.3 L207 326.3 L207.5 326.3 L208 326.4 L208.5 326.4 L209 326.5 L209.5 326.5 L210 326.5 L210.5 326.6 L211 326.6 L211.5 326.6 L212 326.6 L212.5 326.7 L213 326.7 L213.5 326.7 L214 326.7 L214.5 326.7 L215 326.8 L215.5 326.8 L216 326.8 L216.5 326.8 L217 326.8 L217.5 326.8 L218 326.8 L218.5 326.9 L219 326.9 L219.5 326.9 L220 326.9 L220.5 326.9 L221 326.9 L221.5 326.9" fill="none" stroke="#1f6f8c" stroke-width="3.2"/>
<path d="M156 268.7 L156.5 270 L157 271.3 L157.5 272.6 L158 273.8 L158.5 275.1 L159 276.4 L159.5 277.6 L160 278.9 L160.5 280.1 L161 281.3 L161.5 282.5 L162 283.7 L162.5 284.9 L163 286 L163.5 287.2 L164 288.3 L164.5 289.4 L165 290.5 L165.5 291.6 L166 292.6 L166.5 293.7 L167 294.7 L167.5 295.7 L168 296.7 L168.5 297.7 L169 298.6 L169.5 299.5 L170 300.4 L170.5 301.3 L171 302.2 L171.5 303.1 L172 303.9 L172.5 304.7 L173 305.5 L173.5 306.3 L174 307 L174.5 307.7 L175 308.5 L175.5 309.2 L176 309.8 L176.5 310.5 L177 311.1 L177.5 311.7 L178 312.4 L178.5 312.9 L179 313.5 L179.5 314.1 L180 314.6 L180.5 315.1 L181 315.6 L181.5 316.1 L182 316.5 L182.5 317 L183 317.4 L183.5 317.8 L184 318.3 L184.5 318.6 L185 319 L185.5 319.4 L186 319.7 L186.5 320.1 L187 320.4 L187.5 320.7 L188 321 L188.5 321.3 L189 321.6 L189.5 321.8 L190 322.1 L190.5 322.3 L191 322.6 L191.5 322.8 L192 323 L192.5 323.2 L193 323.4 L193.5 323.6 L194 323.8 L194.5 323.9 L195 324.1 L195.5 324.2 L196 324.4 L196.5 324.5 L197 324.7 L197.5 324.8 L198 324.9 L198.5 325 L199 325.1 L199.5 325.2 L200 325.3 L200.5 325.4 L201 325.5 L201.5 325.6 L202 325.7 L202.5 325.8 L203 325.8 L203.5 325.9 L204 326 L204.5 326 L205 326.1 L205.5 326.2 L206 326.2 L206.5 326.3 L207 326.3 L207.5 326.3 L208 326.4 L208.5 326.4 L209 326.5 L209.5 326.5 L210 326.5 L210.5 326.6 L211 326.6 L211.5 326.6 L212 326.6 L212.5 326.7 L213 326.7 L213.5 326.7 L214 326.7 L214.5 326.7 L215 326.8 L215.5 326.8 L216 326.8 L216.5 326.8 L217 326.8 L217.5 326.8 L218 326.8 L218.5 326.9 L219 326.9 L219.5 326.9 L220 326.9 L220.5 326.9 L221 326.9 L221.5 326.9" fill="none" stroke="#3a9aa6" stroke-width="1.2" stroke-dasharray="1.5 1.5"/>
<g fill="#fff" stroke="#642428" stroke-width="0.6"><rect x="59.2" y="325.7" width="2.5" height="2.5"/><rect x="62.2" y="325.7" width="2.5" height="2.5"/><rect x="65.2" y="325.7" width="2.5" height="2.5"/><rect x="68.2" y="325.7" width="2.5" height="2.5"/><rect x="71.2" y="325.7" width="2.5" height="2.5"/><rect x="74.2" y="325.7" width="2.5" height="2.5"/><rect x="77.2" y="325.7" width="2.5" height="2.5"/><rect x="80.2" y="325.7" width="2.5" height="2.5"/><rect x="83.2" y="325.7" width="2.5" height="2.5"/><rect x="86.2" y="325.7" width="2.5" height="2.5"/><rect x="89.2" y="325.7" width="2.5" height="2.5"/><rect x="92.2" y="325.6" width="2.5" height="2.5"/><rect x="95.2" y="325.5" width="2.5" height="2.5"/><rect x="98.2" y="325.4" width="2.5" height="2.5"/><rect x="101.2" y="325.2" width="2.5" height="2.5"/><rect x="104.2" y="325" width="2.5" height="2.5"/><rect x="107.2" y="324.5" width="2.5" height="2.5"/><rect x="110.2" y="324" width="2.5" height="2.5"/><rect x="113.2" y="323.2" width="2.5" height="2.5"/><rect x="116.2" y="322.1" width="2.5" height="2.5"/><rect x="119.2" y="320.7" width="2.5" height="2.5"/><rect x="121.8" y="319.2" width="2.5" height="2.5"/><rect x="124.2" y="317.3" width="2.5" height="2.5"/><rect x="126.8" y="315.1" width="2.5" height="2.5"/><rect x="128.8" y="313" width="2.5" height="2.5"/><rect x="130.8" y="310.6" width="2.5" height="2.5"/><rect x="132.8" y="308" width="2.5" height="2.5"/><rect x="134.8" y="305.1" width="2.5" height="2.5"/><rect x="136.2" y="302.7" width="2.5" height="2.5"/><rect x="137.8" y="300.1" width="2.5" height="2.5"/><rect x="139.2" y="297.4" width="2.5" height="2.5"/><rect x="140.8" y="294.6" width="2.5" height="2.5"/><rect x="142.2" y="291.7" width="2.5" height="2.5"/><rect x="143.8" y="288.7" width="2.5" height="2.5"/><rect x="145.2" y="285.6" width="2.5" height="2.5"/><rect x="146.8" y="282.4" width="2.5" height="2.5"/><rect x="148.2" y="279.2" width="2.5" height="2.5"/><rect x="149.8" y="276" width="2.5" height="2.5"/><rect x="151.2" y="272.9" width="2.5" height="2.5"/><rect x="152.8" y="269.8" width="2.5" height="2.5"/><rect x="154.2" y="266.9" width="2.5" height="2.5"/><rect x="155.8" y="264" width="2.5" height="2.5"/><rect x="157.2" y="261.4" width="2.5" height="2.5"/><rect x="158.8" y="258.9" width="2.5" height="2.5"/><rect x="160.8" y="256" width="2.5" height="2.5"/><rect x="162.8" y="253.6" width="2.5" height="2.5"/><rect x="165.2" y="251.4" width="2.5" height="2.5"/><rect x="167.8" y="250.1" width="2.5" height="2.5"/><rect x="170.8" y="249.8" width="2.5" height="2.5"/><rect x="173.8" y="251" width="2.5" height="2.5"/><rect x="176.2" y="253.1" width="2.5" height="2.5"/><rect x="178.2" y="255.4" width="2.5" height="2.5"/><rect x="180.2" y="258.1" width="2.5" height="2.5"/><rect x="181.8" y="260.5" width="2.5" height="2.5"/><rect x="183.2" y="263.1" width="2.5" height="2.5"/><rect x="184.8" y="265.9" width="2.5" height="2.5"/><rect x="186.2" y="268.8" width="2.5" height="2.5"/><rect x="187.8" y="271.9" width="2.5" height="2.5"/><rect x="189.2" y="275" width="2.5" height="2.5"/><rect x="190.8" y="278.2" width="2.5" height="2.5"/><rect x="192.2" y="281.4" width="2.5" height="2.5"/><rect x="193.8" y="284.5" width="2.5" height="2.5"/><rect x="195.2" y="287.6" width="2.5" height="2.5"/><rect x="196.8" y="290.7" width="2.5" height="2.5"/><rect x="198.2" y="293.7" width="2.5" height="2.5"/><rect x="199.8" y="296.5" width="2.5" height="2.5"/><rect x="201.2" y="299.3" width="2.5" height="2.5"/><rect x="202.8" y="301.8" width="2.5" height="2.5"/><rect x="204.2" y="304.3" width="2.5" height="2.5"/><rect x="206.2" y="307.3" width="2.5" height="2.5"/><rect x="208.2" y="310" width="2.5" height="2.5"/><rect x="210.2" y="312.4" width="2.5" height="2.5"/><rect x="212.2" y="314.6" width="2.5" height="2.5"/><rect x="214.8" y="316.9" width="2.5" height="2.5"/><rect x="217.2" y="318.8" width="2.5" height="2.5"/><rect x="219.8" y="320.4" width="2.5" height="2.5"/><rect x="222.2" y="321.7" width="2.5" height="2.5"/><rect x="225.2" y="322.9" width="2.5" height="2.5"/><rect x="228.2" y="323.7" width="2.5" height="2.5"/><rect x="231.2" y="324.4" width="2.5" height="2.5"/><rect x="234.2" y="324.8" width="2.5" height="2.5"/><rect x="237.2" y="325.1" width="2.5" height="2.5"/><rect x="240.2" y="325.4" width="2.5" height="2.5"/><rect x="243.2" y="325.5" width="2.5" height="2.5"/></g>
<path d="M38.5 327.0H246.5" stroke="#720e14" stroke-width="3.1"/>
<path d="M38.5 326 L39 326 L39.5 326 L40 325.9 L40.5 325.9 L41 325.9 L41.5 325.9 L42 325.9 L42.5 325.9 L43 325.9 L43.5 325.8 L44 325.8 L44.5 325.8 L45 325.8 L45.5 325.8 L46 325.7 L46.5 325.7 L47 325.7 L47.5 325.7 L48 325.6 L48.5 325.6 L49 325.6 L49.5 325.5 L50 325.5 L50.5 325.4 L51 325.4 L51.5 325.4 L52 325.3 L52.5 325.3 L53 325.2 L53.5 325.1 L54 325.1 L54.5 325 L55 324.9 L55.5 324.9 L56 324.8 L56.5 324.7 L57 324.6 L57.5 324.5 L58 324.4 L58.5 324.3 L59 324.2 L59.5 324.1 L60 324 L60.5 323.9 L61 323.8 L61.5 323.6 L62 323.5 L62.5 323.3 L63 323.2 L63.5 323 L64 322.9 L64.5 322.7 L65 322.5 L65.5 322.3 L66 322.1 L66.5 321.9 L67 321.7 L67.5 321.4 L68 321.2 L68.5 320.9 L69 320.7 L69.5 320.4 L70 320.1 L70.5 319.8 L71 319.5 L71.5 319.2 L72 318.8 L72.5 318.5 L73 318.1 L73.5 317.7 L74 317.3 L74.5 316.9 L75 316.5 L75.5 316.1 L76 315.6 L76.5 315.2 L77 314.7 L77.5 314.2 L78 313.7 L78.5 313.1 L79 312.6 L79.5 312 L80 311.4 L80.5 310.8 L81 310.2 L81.5 309.6 L82 308.9 L82.5 308.2 L83 307.5 L83.5 306.8 L84 306.1 L84.5 305.3 L85 304.6 L85.5 303.8 L86 303 L86.5 302.1 L87 301.3 L87.5 300.4 L88 299.5 L88.5 298.6 L89 297.7 L89.5 296.7 L90 295.8 L90.5 294.8 L91 293.8 L91.5 292.7 L92 291.7 L92.5 290.6 L93 289.5 L93.5 288.4 L94 287.3 L94.5 286.2 L95 285 L95.5 283.9 L96 282.7 L96.5 281.5 L97 280.3 L97.5 279.1 L98 277.8 L98.5 276.6 L99 275.3 L99.5 274 L100 272.8 L100.5 271.5 L101 270.2 L101.5 268.8 L102 267.5 L102.5 266.2 L103 264.9 L103.5 263.5 L104 262.2 L104.5 260.9 L105 259.5 L105.5 258.2 L106 256.8 L106.5 255.5 L107 254.1 L107.5 252.8 L108 251.5 L108.5 250.1 L109 248.8 L109.5 247.5 L110 246.2 L110.5 244.9 L111 243.6 L111.5 242.3 L112 241 L112.5 239.8 L113 238.5 L113.5 237.3 L114 236.1 L114.5 234.9 L115 233.7 L115.5 232.5 L116 231.4 L116.5 230.3 L117 229.2 L117.5 228.1 L118 227 L118.5 226 L119 224.9 L119.5 223.9 L120 223 L120.5 222 L121 221.1 L121.5 220.2 L122 219.3 L122.5 218.4 L123 217.6 L123.5 216.8 L124 216 L124.5 215.3 L125 214.6 L125.5 213.9 L126 213.2 L126.5 212.6 L127 211.9 L127.5 211.4 L128 210.8 L128.5 210.3 L129 209.8 L129.5 209.3 L130 208.8 L130.5 208.4 L131 208 L131.5 207.6 L132 207.2 L132.5 206.9 L133 206.6 L133.5 206.3 L134 206 L134.5 205.8 L135 205.6 L135.5 205.4 L136 205.2 L136.5 205 L137 204.9 L137.5 204.8 L138 204.7 L138.5 204.6 L139 204.5 L139.5 204.5 L140 204.4 L140.5 204.4 L141 204.4 L141.5 204.4 L142 204.5 L142.5 204.5 L143 204.6 L143.5 204.6 L144 204.7 L144.5 204.8 L145 204.9 L145.5 205 L146 205.1 L146.5 205.3 L147 205.4 L147.5 205.6 L148 205.8 L148.5 205.9 L149 206.1 L149.5 206.3 L150 206.5 L150.5 206.7 L151 207 L151.5 207.2 L152 207.5 L152.5 207.7 L153 208 L153.5 208.2 L154 208.5 L154.5 208.8 L155 209.1 L155.5 209.4 L156 209.8 L156.5 210.1 L157 210.5 L157.5 210.8 L158 211.2 L158.5 211.6 L159 212 L159.5 212.4 L160 212.8 L160.5 213.2 L161 213.7 L161.5 214.2 L162 214.7 L162.5 215.2 L163 215.7 L163.5 216.2 L164 216.8 L164.5 217.3 L165 217.9 L165.5 218.5 L166 219.1 L166.5 219.8 L167 220.4 L167.5 221.1 L168 221.8 L168.5 222.5 L169 223.3 L169.5 224 L170 224.8 L170.5 225.6 L171 226.4 L171.5 227.3 L172 228.1 L172.5 229 L173 229.9 L173.5 230.9 L174 231.8 L174.5 232.8 L175 233.7 L175.5 234.7 L176 235.8 L176.5 236.8 L177 237.9 L177.5 238.9 L178 240 L178.5 241.1 L179 242.3 L179.5 243.4 L180 244.6 L180.5 245.7 L181 246.9 L181.5 248.1 L182 249.3 L182.5 250.5 L183 251.8 L183.5 253 L184 254.3 L184.5 255.5 L185 256.8 L185.5 258 L186 259.3 L186.5 260.6 L187 261.9 L187.5 263.2 L188 264.4 L188.5 265.7 L189 267 L189.5 268.3 L190 269.6 L190.5 270.9 L191 272.1 L191.5 273.4 L192 274.7 L192.5 275.9 L193 277.2 L193.5 278.4 L194 279.6 L194.5 280.8 L195 282.1 L195.5 283.2 L196 284.4 L196.5 285.6 L197 286.8 L197.5 287.9 L198 289 L198.5 290.1 L199 291.2 L199.5 292.3 L200 293.4 L200.5 294.4 L201 295.4 L201.5 296.4 L202 297.4 L202.5 298.4 L203 299.3 L203.5 300.3 L204 301.2 L204.5 302.1 L205 302.9 L205.5 303.8 L206 304.6 L206.5 305.4 L207 306.2 L207.5 307 L208 307.7 L208.5 308.5 L209 309.2 L209.5 309.9 L210 310.5 L210.5 311.2 L211 311.8 L211.5 312.4 L212 313 L212.5 313.6 L213 314.1 L213.5 314.6 L214 315.2 L214.5 315.7 L215 316.1 L215.5 316.6 L216 317 L216.5 317.5 L217 317.9 L217.5 318.3 L218 318.7 L218.5 319 L219 319.4 L219.5 319.7 L220 320 L220.5 320.4 L221 320.7 L221.5 320.9 L222 321.2 L222.5 321.5 L223 321.7 L223.5 322 L224 322.2 L224.5 322.4 L225 322.6 L225.5 322.8 L226 323 L226.5 323.2 L227 323.3 L227.5 323.5 L228 323.7 L228.5 323.8 L229 323.9 L229.5 324.1 L230 324.2 L230.5 324.3 L231 324.4 L231.5 324.5 L232 324.6 L232.5 324.7 L233 324.8 L233.5 324.9 L234 325 L234.5 325 L235 325.1 L235.5 325.2 L236 325.2 L236.5 325.3 L237 325.3 L237.5 325.4 L238 325.4 L238.5 325.5 L239 325.5 L239.5 325.6 L240 325.6 L240.5 325.6 L241 325.7 L241.5 325.7 L242 325.7 L242.5 325.8 L243 325.8 L243.5 325.8 L244 325.8 L244.5 325.9 L245 325.9 L245.5 325.9 L246 325.9 L246.5 325.9" fill="none" stroke="#ac1c24" stroke-width="1.2"/>
<path d="M129 193.8L124.3 348.5M171.4 193.8L172.6 348.5" stroke="#222" stroke-width="1" stroke-dasharray="1.2 1.2" fill="none"/>
<rect x="308" y="198" width="209.20000000000005" height="153" fill="none" stroke="#5a5a5a" stroke-width="1.2"/>
<path d="M340.5 351v-3M405.8 351v-3M471 351v-3M373.1 351v-2M438.4 351v-2M503.6 351v-2" stroke="#5a5a5a" stroke-width="1" fill="none"/>
<text x="340.5" y="363.5" font-size="12" text-anchor="middle" fill="#333" stroke="#333" stroke-width="0.2">1020</text>
<text x="405.8" y="363.5" font-size="12" text-anchor="middle" fill="#333" stroke="#333" stroke-width="0.2">1030</text>
<text x="471" y="363.5" font-size="12" text-anchor="middle" fill="#333" stroke="#333" stroke-width="0.2">1040</text>
<text x="411.5" y="379" font-size="12.2" text-anchor="middle" fill="#333" stroke="#333" stroke-width="0.2" >Binding Energy (eV)</text>
<text x="272" y="205.5" font-size="17.4" text-anchor="start" fill="#333" stroke="#333" stroke-width="0.3">(d)</text>
<text x="343" y="214" font-size="12" text-anchor="start" fill="#333" stroke="#333" stroke-width="0.2" >Zn 2<tspan font-style="italic">p</tspan><tspan font-size="7.5" dy="3.5" fill="#555" stroke-width="0">3/2</tspan></text>
<text x="444" y="214" font-size="12" text-anchor="start" fill="#333" stroke="#333" stroke-width="0.2" >Zn 2<tspan font-style="italic">p</tspan><tspan font-size="7.5" dy="3.5" fill="#555" stroke-width="0">1/2</tspan></text>
<path d="M311.5 340.9 L312 340.9 L312.5 340.8 L313 340.8 L313.5 340.8 L314 340.8 L314.5 340.7 L315 340.7 L315.5 340.6 L316 340.5 L316.5 340.4 L317 340.2 L317.5 340 L318 339.8 L318.5 339.5 L319 339.2 L319.5 338.8 L320 338.3 L320.5 337.7 L321 337 L321.5 336.1 L322 335.1 L322.5 334 L323 332.6 L323.5 331.1 L324 329.3 L324.5 327.3 L325 325 L325.5 322.5 L326 319.7 L326.5 316.5 L327 313.1 L327.5 309.4 L328 305.4 L328.5 301.1 L329 296.5 L329.5 291.7 L330 286.7 L330.5 281.5 L331 276.2 L331.5 270.8 L332 265.4 L332.5 260.1 L333 254.9 L333.5 249.9 L334 245.1 L334.5 240.7 L335 236.6 L335.5 233 L336 229.9 L336.5 227.4 L337 225.5 L337.5 224.3 L338 223.7 L338.5 223.7 L339 224.5 L339.5 225.9 L340 227.9 L340.5 230.5 L341 233.7 L341.5 237.4 L342 241.5 L342.5 246 L343 250.9 L343.5 255.9 L344 261.2 L344.5 266.5 L345 271.9 L345.5 277.3 L346 282.6 L346.5 287.7 L347 292.7 L347.5 297.4 L348 301.9 L348.5 306.2 L349 310.1 L349.5 313.8 L350 317.2 L350.5 320.2 L351 323 L351.5 325.5 L352 327.7 L352.5 329.7 L353 331.4 L353.5 332.9 L354 334.2 L354.5 335.3 L355 336.3 L355.5 337.1 L356 337.8 L356.5 338.4 L357 338.9 L357.5 339.3 L358 339.6 L358.5 339.9 L359 340.1 L359.5 340.3 L360 340.4 L360.5 340.5 L361 340.6 L361.5 340.7 L362 340.7 L362.5 340.8 L363 340.8 L363.5 340.8 L364 340.8 L364.5 340.9 L364.5 340.9 L364 340.9 L363.5 340.9 L363 340.9 L362.5 340.9 L362 340.9 L361.5 340.9 L361 340.9 L360.5 340.9 L360 340.9 L359.5 340.9 L359 340.9 L358.5 340.9 L358 340.9 L357.5 340.9 L357 340.9 L356.5 340.9 L356 340.9 L355.5 340.9 L355 340.9 L354.5 340.9 L354 340.9 L353.5 340.9 L353 340.9 L352.5 340.9 L352 340.9 L351.5 340.9 L351 340.9 L350.5 340.9 L350 340.9 L349.5 340.9 L349 340.9 L348.5 340.9 L348 340.9 L347.5 340.9 L347 340.9 L346.5 340.9 L346 340.9 L345.5 340.9 L345 340.9 L344.5 340.9 L344 340.9 L343.5 340.9 L343 340.9 L342.5 340.9 L342 340.9 L341.5 340.9 L341 340.9 L340.5 340.9 L340 340.9 L339.5 340.9 L339 340.9 L338.5 340.9 L338 340.9 L337.5 340.9 L337 340.9 L336.5 340.9 L336 340.9 L335.5 340.9 L335 340.9 L334.5 340.9 L334 340.9 L333.5 340.9 L333 340.9 L332.5 340.9 L332 340.9 L331.5 340.9 L331 340.9 L330.5 340.9 L330 340.9 L329.5 340.9 L329 340.9 L328.5 340.9 L328 340.9 L327.5 340.9 L327 340.9 L326.5 340.9 L326 340.9 L325.5 340.9 L325 340.9 L324.5 340.9 L324 340.9 L323.5 340.9 L323 340.9 L322.5 340.9 L322 340.9 L321.5 340.9 L321 340.9 L320.5 340.9 L320 340.9 L319.5 340.9 L319 340.9 L318.5 340.9 L318 340.9 L317.5 340.9 L317 340.9 L316.5 340.9 L316 340.9 L315.5 340.9 L315 340.9 L314.5 340.9 L314 340.9 L313.5 340.9 L313 340.9 L312.5 340.9 L312 340.9 L311.5 340.9Z" fill="#e8c8ea"/>
<path d="M456.5 340.9 L457 340.9 L457.5 340.9 L458 340.9 L458.5 340.9 L459 340.9 L459.5 340.9 L460 340.9 L460.5 340.9 L461 340.9 L461.5 340.9 L462 340.9 L462.5 340.9 L463 340.9 L463.5 340.9 L464 340.8 L464.5 340.8 L465 340.8 L465.5 340.8 L466 340.7 L466.5 340.7 L467 340.6 L467.5 340.5 L468 340.4 L468.5 340.3 L469 340.2 L469.5 340 L470 339.8 L470.5 339.5 L471 339.2 L471.5 338.9 L472 338.5 L472.5 338 L473 337.5 L473.5 336.9 L474 336.2 L474.5 335.4 L475 334.5 L475.5 333.6 L476 332.5 L476.5 331.4 L477 330.1 L477.5 328.8 L478 327.4 L478.5 325.9 L479 324.3 L479.5 322.7 L480 321.1 L480.5 319.5 L481 317.8 L481.5 316.2 L482 314.6 L482.5 313.1 L483 311.7 L483.5 310.4 L484 309.3 L484.5 308.3 L485 307.4 L485.5 306.8 L486 306.4 L486.5 306.1 L487 306.1 L487.5 306.3 L488 306.7 L488.5 307.3 L489 308.1 L489.5 309.1 L490 310.2 L490.5 311.5 L491 312.8 L491.5 314.3 L492 315.9 L492.5 317.5 L493 319.1 L493.5 320.8 L494 322.4 L494.5 324 L495 325.6 L495.5 327.1 L496 328.5 L496.5 329.9 L497 331.1 L497.5 332.3 L498 333.4 L498.5 334.4 L499 335.2 L499.5 336 L500 336.8 L500.5 337.4 L501 337.9 L501.5 338.4 L502 338.8 L502.5 339.2 L503 339.5 L503.5 339.7 L504 340 L504.5 340.1 L505 340.3 L505.5 340.4 L506 340.5 L506.5 340.6 L507 340.7 L507.5 340.7 L508 340.8 L508.5 340.8 L509 340.8 L509.5 340.8 L510 340.9 L510.5 340.9 L511 340.9 L511.5 340.9 L512 340.9 L512.5 340.9 L513 340.9 L513.5 340.9 L514 340.9 L514.5 340.9 L515 340.9 L515.5 340.9 L516 340.9 L516.5 340.9 L517 340.9 L517 340.9 L516.5 340.9 L516 340.9 L515.5 340.9 L515 340.9 L514.5 340.9 L514 340.9 L513.5 340.9 L513 340.9 L512.5 340.9 L512 340.9 L511.5 340.9 L511 340.9 L510.5 340.9 L510 340.9 L509.5 340.9 L509 340.9 L508.5 340.9 L508 340.9 L507.5 340.9 L507 340.9 L506.5 340.9 L506 340.9 L505.5 340.9 L505 340.9 L504.5 340.9 L504 340.9 L503.5 340.9 L503 340.9 L502.5 340.9 L502 340.9 L501.5 340.9 L501 340.9 L500.5 340.9 L500 340.9 L499.5 340.9 L499 340.9 L498.5 340.9 L498 340.9 L497.5 340.9 L497 340.9 L496.5 340.9 L496 340.9 L495.5 340.9 L495 340.9 L494.5 340.9 L494 340.9 L493.5 340.9 L493 340.9 L492.5 340.9 L492 340.9 L491.5 340.9 L491 340.9 L490.5 340.9 L490 340.9 L489.5 340.9 L489 340.9 L488.5 340.9 L488 340.9 L487.5 340.9 L487 340.9 L486.5 340.9 L486 340.9 L485.5 340.9 L485 340.9 L484.5 340.9 L484 340.9 L483.5 340.9 L483 340.9 L482.5 340.9 L482 340.9 L481.5 340.9 L481 340.9 L480.5 340.9 L480 340.9 L479.5 340.9 L479 340.9 L478.5 340.9 L478 340.9 L477.5 340.9 L477 340.9 L476.5 340.9 L476 340.9 L475.5 340.9 L475 340.9 L474.5 340.9 L474 340.9 L473.5 340.9 L473 340.9 L472.5 340.9 L472 340.9 L471.5 340.9 L471 340.9 L470.5 340.9 L470 340.9 L469.5 340.9 L469 340.9 L468.5 340.9 L468 340.9 L467.5 340.9 L467 340.9 L466.5 340.9 L466 340.9 L465.5 340.9 L465 340.9 L464.5 340.9 L464 340.9 L463.5 340.9 L463 340.9 L462.5 340.9 L462 340.9 L461.5 340.9 L461 340.9 L460.5 340.9 L460 340.9 L459.5 340.9 L459 340.9 L458.5 340.9 L458 340.9 L457.5 340.9 L457 340.9 L456.5 340.9Z" fill="#fbdcf8"/>
<path d="M338 198V351M486.2 198L487 351" stroke="#333" stroke-width="1" stroke-dasharray="1.2 1.6" fill="none"/>
<path d="M338 224.2V339" stroke="#7468c8" stroke-width="1" stroke-dasharray="1.2 1.6" fill="none"/>
<path d="M486.8 308.6V339" stroke="#3434b4" stroke-width="1" stroke-dasharray="1.2 1.6" fill="none"/>
<path d="M308 340.9H517.2" stroke="#9c3418" stroke-width="3.4"/>
<path d="M311.5 340.9 L312 340.9 L312.5 340.8 L313 340.8 L313.5 340.8 L314 340.8 L314.5 340.7 L315 340.7 L315.5 340.6 L316 340.5 L316.5 340.4 L317 340.2 L317.5 340 L318 339.8 L318.5 339.5 L319 339.2 L319.5 338.8 L320 338.3 L320.5 337.7 L321 337 L321.5 336.1 L322 335.1 L322.5 334 L323 332.6 L323.5 331.1 L324 329.3 L324.5 327.3 L325 325 L325.5 322.5 L326 319.7 L326.5 316.5 L327 313.1 L327.5 309.4 L328 305.4 L328.5 301.1 L329 296.5 L329.5 291.7 L330 286.7 L330.5 281.5 L331 276.2 L331.5 270.8 L332 265.4 L332.5 260.1 L333 254.9 L333.5 249.9 L334 245.1 L334.5 240.7 L335 236.6 L335.5 233 L336 229.9 L336.5 227.4 L337 225.5 L337.5 224.3 L338 223.7 L338.5 223.7 L339 224.5 L339.5 225.9 L340 227.9 L340.5 230.5 L341 233.7 L341.5 237.4 L342 241.5 L342.5 246 L343 250.9 L343.5 255.9 L344 261.2 L344.5 266.5 L345 271.9 L345.5 277.3 L346 282.6 L346.5 287.7 L347 292.7 L347.5 297.4 L348 301.9 L348.5 306.2 L349 310.1 L349.5 313.8 L350 317.2 L350.5 320.2 L351 323 L351.5 325.5 L352 327.7 L352.5 329.7 L353 331.4 L353.5 332.9 L354 334.2 L354.5 335.3 L355 336.3 L355.5 337.1 L356 337.8 L356.5 338.4 L357 338.9 L357.5 339.3 L358 339.6 L358.5 339.9 L359 340.1 L359.5 340.3 L360 340.4 L360.5 340.5 L361 340.6 L361.5 340.7 L362 340.7 L362.5 340.8 L363 340.8 L363.5 340.8 L364 340.8 L364.5 340.9" fill="none" stroke="#c2134e" stroke-width="3.4" stroke-linejoin="round"/>
<path d="M311.5 340.9 L312 340.9 L312.5 340.8 L313 340.8 L313.5 340.8 L314 340.8 L314.5 340.7 L315 340.7 L315.5 340.6 L316 340.5 L316.5 340.4 L317 340.2 L317.5 340 L318 339.8 L318.5 339.5 L319 339.2 L319.5 338.8 L320 338.3 L320.5 337.7 L321 337 L321.5 336.1 L322 335.1 L322.5 334 L323 332.6 L323.5 331.1 L324 329.3 L324.5 327.3 L325 325 L325.5 322.5 L326 319.7 L326.5 316.5 L327 313.1 L327.5 309.4 L328 305.4 L328.5 301.1 L329 296.5 L329.5 291.7 L330 286.7 L330.5 281.5 L331 276.2 L331.5 270.8 L332 265.4 L332.5 260.1 L333 254.9 L333.5 249.9 L334 245.1 L334.5 240.7 L335 236.6 L335.5 233 L336 229.9 L336.5 227.4 L337 225.5 L337.5 224.3 L338 223.7 L338.5 223.7 L339 224.5 L339.5 225.9 L340 227.9 L340.5 230.5 L341 233.7 L341.5 237.4 L342 241.5 L342.5 246 L343 250.9 L343.5 255.9 L344 261.2 L344.5 266.5 L345 271.9 L345.5 277.3 L346 282.6 L346.5 287.7 L347 292.7 L347.5 297.4 L348 301.9 L348.5 306.2 L349 310.1 L349.5 313.8 L350 317.2 L350.5 320.2 L351 323 L351.5 325.5 L352 327.7 L352.5 329.7 L353 331.4 L353.5 332.9 L354 334.2 L354.5 335.3 L355 336.3 L355.5 337.1 L356 337.8 L356.5 338.4 L357 338.9 L357.5 339.3 L358 339.6 L358.5 339.9 L359 340.1 L359.5 340.3 L360 340.4 L360.5 340.5 L361 340.6 L361.5 340.7 L362 340.7 L362.5 340.8 L363 340.8 L363.5 340.8 L364 340.8 L364.5 340.9" fill="none" stroke="#5c1a7c" stroke-width="1.5" stroke-dasharray="1.6 1.6"/>
<path d="M456.5 340.9 L457 340.9 L457.5 340.9 L458 340.9 L458.5 340.9 L459 340.9 L459.5 340.9 L460 340.9 L460.5 340.9 L461 340.9 L461.5 340.9 L462 340.9 L462.5 340.9 L463 340.9 L463.5 340.9 L464 340.8 L464.5 340.8 L465 340.8 L465.5 340.8 L466 340.7 L466.5 340.7 L467 340.6 L467.5 340.5 L468 340.4 L468.5 340.3 L469 340.2 L469.5 340 L470 339.8 L470.5 339.5 L471 339.2 L471.5 338.9 L472 338.5 L472.5 338 L473 337.5 L473.5 336.9 L474 336.2 L474.5 335.4 L475 334.5 L475.5 333.6 L476 332.5 L476.5 331.4 L477 330.1 L477.5 328.8 L478 327.4 L478.5 325.9 L479 324.3 L479.5 322.7 L480 321.1 L480.5 319.5 L481 317.8 L481.5 316.2 L482 314.6 L482.5 313.1 L483 311.7 L483.5 310.4 L484 309.3 L484.5 308.3 L485 307.4 L485.5 306.8 L486 306.4 L486.5 306.1 L487 306.1 L487.5 306.3 L488 306.7 L488.5 307.3 L489 308.1 L489.5 309.1 L490 310.2 L490.5 311.5 L491 312.8 L491.5 314.3 L492 315.9 L492.5 317.5 L493 319.1 L493.5 320.8 L494 322.4 L494.5 324 L495 325.6 L495.5 327.1 L496 328.5 L496.5 329.9 L497 331.1 L497.5 332.3 L498 333.4 L498.5 334.4 L499 335.2 L499.5 336 L500 336.8 L500.5 337.4 L501 337.9 L501.5 338.4 L502 338.8 L502.5 339.2 L503 339.5 L503.5 339.7 L504 340 L504.5 340.1 L505 340.3 L505.5 340.4 L506 340.5 L506.5 340.6 L507 340.7 L507.5 340.7 L508 340.8 L508.5 340.8 L509 340.8 L509.5 340.8 L510 340.9 L510.5 340.9 L511 340.9 L511.5 340.9 L512 340.9 L512.5 340.9 L513 340.9 L513.5 340.9 L514 340.9 L514.5 340.9 L515 340.9 L515.5 340.9 L516 340.9 L516.5 340.9 L517 340.9" fill="none" stroke="#8c2e12" stroke-width="3.5" stroke-linejoin="round"/>
<path d="M317.5 341.0H355.5" stroke="#2a8a3a" stroke-width="3.2"/>
<path d="M470 341.29999999999995H503.5" stroke="#1c1ca4" stroke-width="2.8"/>
</g>
</svg>
</body></html>
